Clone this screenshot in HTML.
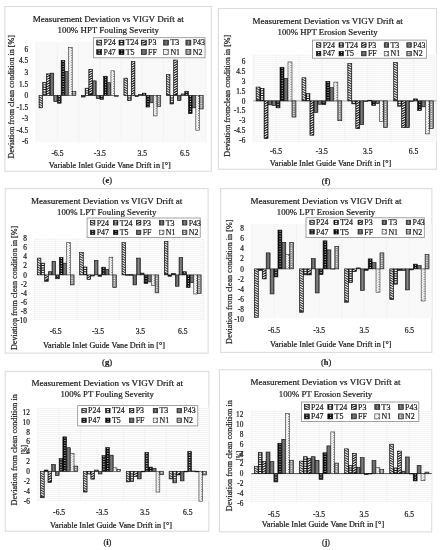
<!DOCTYPE html>
<html><head><meta charset="utf-8"><title>VIGV Drift charts</title>
<style>html,body{margin:0;padding:0;background:#fff;}svg{display:block;filter:blur(0.3px);}</style></head><body>
<svg width="443" height="550" viewBox="0 0 443 550" font-family="'Liberation Serif', 'DejaVu Serif', serif" fill="#1c1c1c">
<style>text{stroke:#1c1c1c;stroke-width:0.22px;paint-order:stroke;}</style>
<rect width="443" height="550" fill="#fff"/>
<g id="chart-e">
<rect x="4.9" y="6.5" width="206.4" height="164.8" fill="#fff" stroke="#dcdcdc" stroke-width="1.1"/>
<rect x="36.24" y="42" width="169.72" height="100.3" fill="#ffffff"/>
<path d="M36.24,43H205.96M36.24,45H205.96M36.24,47H205.96M36.24,49H205.96M36.24,51H205.96M36.24,53H205.96M36.24,55H205.96M36.24,57H205.96M36.24,59H205.96M36.24,61H205.96M36.24,63H205.96M36.24,65H205.96M36.24,67H205.96M36.24,69H205.96M36.24,71H205.96M36.24,73H205.96M36.24,75H205.96M36.24,77H205.96M36.24,79H205.96M36.24,81H205.96M36.24,83H205.96M36.24,85H205.96M36.24,87H205.96M36.24,89H205.96M36.24,91H205.96M36.24,93H205.96M36.24,95H205.96M36.24,97H205.96M36.24,99H205.96M36.24,101H205.96M36.24,103H205.96M36.24,105H205.96M36.24,107H205.96M36.24,109H205.96M36.24,111H205.96M36.24,113H205.96M36.24,115H205.96M36.24,117H205.96M36.24,119H205.96M36.24,121H205.96M36.24,123H205.96M36.24,125H205.96M36.24,127H205.96M36.24,129H205.96M36.24,131H205.96M36.24,133H205.96M36.24,135H205.96M36.24,137H205.96M36.24,139H205.96M36.24,141H205.96" stroke="#e9e9e9" stroke-width="0.6" fill="none"/>
<path d="M36.24,42V142.3M57.45,42V142.3M78.67,42V142.3M99.88,42V142.3M121.1,42V142.3M142.31,42V142.3M163.53,42V142.3M184.75,42V142.3M205.96,42V142.3" stroke="#eeeeee" stroke-width="0.6" fill="none"/>
<rect x="39.01" y="95.5" width="3.69" height="12.34" fill="#3a3a3a"/><path d="M39.82,95.95L41.89,97.25M39.82,98.4L41.89,99.7M39.82,100.85L41.89,102.15M39.82,103.3L41.89,104.6M39.82,105.75L41.89,107.05" stroke="#f2f2f2" stroke-width="1.1" stroke-linecap="round"/><rect x="39.01" y="95.5" width="3.69" height="12.34" fill="none" stroke="#111" stroke-width="0.6"/>
<rect x="42.7" y="82.39" width="3.69" height="13.11" fill="#1a1a1a"/><path d="M44.54,82.99V95.1" stroke="#f6f6f6" stroke-width="2.1" stroke-dasharray="1.4 0.95"/><rect x="42.7" y="82.39" width="3.69" height="13.11" fill="none" stroke="#111" stroke-width="0.6"/>
<rect x="46.39" y="73.91" width="3.69" height="21.59" fill="#1c1c1c"/><path d="M47.2,75.66L49.26,74.36M47.2,78.11L49.26,76.81M47.2,80.56L49.26,79.26M47.2,83.01L49.26,81.71M47.2,85.46L49.26,84.16M47.2,87.91L49.26,86.61M47.2,90.36L49.26,89.06M47.2,92.81L49.26,91.51M47.2,95.26L49.26,93.96" stroke="#f4f4f4" stroke-width="1.05" stroke-linecap="round"/><rect x="46.39" y="73.91" width="3.69" height="21.59" fill="none" stroke="#111" stroke-width="0.6"/>
<rect x="50.08" y="73.14" width="3.69" height="22.36" fill="#4c4c4c"/><rect x="51.27" y="73.14" width="1.3" height="22.36" fill="#808080"/><rect x="50.08" y="73.14" width="3.69" height="22.36" fill="none" stroke="#111" stroke-width="0.6"/>
<rect x="53.77" y="95.5" width="3.69" height="6.17" fill="#595959"/><rect x="55.01" y="95.5" width="1.2" height="6.17" fill="#8a8a8a"/><rect x="53.77" y="95.5" width="3.69" height="6.17" fill="none" stroke="#111" stroke-width="0.6"/>
<rect x="57.45" y="95.5" width="3.69" height="7.71" fill="#1e1e1e"/><path d="M59.3,96.1V102.81" stroke="#d0d0d0" stroke-width="1.3" stroke-dasharray="1.0 1.5"/><rect x="57.45" y="95.5" width="3.69" height="7.71" fill="none" stroke="#111" stroke-width="0.6"/>
<rect x="61.14" y="60.42" width="3.69" height="35.08" fill="#0c0c0c"/><path d="M63.17,61.02V95.1" stroke="#c8c8c8" stroke-width="1.2" stroke-dasharray="1.0 1.5"/><rect x="61.14" y="60.42" width="3.69" height="35.08" fill="none" stroke="#111" stroke-width="0.6"/>
<rect x="64.83" y="71.6" width="3.69" height="23.9" fill="#5a5a5a"/><rect x="66.03" y="71.6" width="1.3" height="23.9" fill="#7c7c7c"/><rect x="64.83" y="71.6" width="3.69" height="23.9" fill="none" stroke="#111" stroke-width="0.6"/>
<rect x="68.52" y="47.31" width="3.69" height="48.19" fill="#fbfbfb"/><path d="M71.25,47.91V95.1" stroke="#333333" stroke-width="0.85" stroke-dasharray="0.8 1.6"/><path d="M69.52,48.91V95.1" stroke="#8a8a8a" stroke-width="0.7" stroke-dasharray="0.8 1.6"/><rect x="68.52" y="47.31" width="3.69" height="48.19" fill="none" stroke="#2a2a2a" stroke-width="0.6"/>
<rect x="72.21" y="91.64" width="3.69" height="3.85" fill="#8a8a8a"/><path d="M73.87,92.24V95.1" stroke="#eeeeee" stroke-width="1.3" stroke-dasharray="1.1 1.2"/><rect x="72.21" y="91.64" width="3.69" height="3.85" fill="none" stroke="#111" stroke-width="0.6"/>
<rect x="81.44" y="95.5" width="3.69" height="1.54" fill="#3a3a3a"/><rect x="81.44" y="95.5" width="3.69" height="1.54" fill="none" stroke="#111" stroke-width="0.6"/>
<rect x="85.13" y="88.18" width="3.69" height="7.32" fill="#1a1a1a"/><path d="M86.97,88.78V95.1" stroke="#f6f6f6" stroke-width="2.1" stroke-dasharray="1.4 0.95"/><rect x="85.13" y="88.18" width="3.69" height="7.32" fill="none" stroke="#111" stroke-width="0.6"/>
<rect x="88.82" y="69.29" width="3.69" height="26.21" fill="#1c1c1c"/><path d="M89.63,71.04L91.69,69.74M89.63,73.49L91.69,72.19M89.63,75.94L91.69,74.64M89.63,78.39L91.69,77.09M89.63,80.84L91.69,79.54M89.63,83.29L91.69,81.99M89.63,85.74L91.69,84.44M89.63,88.19L91.69,86.89M89.63,90.64L91.69,89.34M89.63,93.09L91.69,91.79" stroke="#f4f4f4" stroke-width="1.05" stroke-linecap="round"/><rect x="88.82" y="69.29" width="3.69" height="26.21" fill="none" stroke="#111" stroke-width="0.6"/>
<rect x="92.51" y="80.85" width="3.69" height="14.65" fill="#4c4c4c"/><rect x="93.7" y="80.85" width="1.3" height="14.65" fill="#808080"/><rect x="92.51" y="80.85" width="3.69" height="14.65" fill="none" stroke="#111" stroke-width="0.6"/>
<rect x="96.2" y="95.5" width="3.69" height="3.08" fill="#595959"/><rect x="97.44" y="95.5" width="1.2" height="3.08" fill="#8a8a8a"/><rect x="96.2" y="95.5" width="3.69" height="3.08" fill="none" stroke="#111" stroke-width="0.6"/>
<rect x="99.88" y="95.5" width="3.69" height="3.85" fill="#1e1e1e"/><path d="M101.73,96.1V98.95" stroke="#d0d0d0" stroke-width="1.3" stroke-dasharray="1.0 1.5"/><rect x="99.88" y="95.5" width="3.69" height="3.85" fill="none" stroke="#111" stroke-width="0.6"/>
<rect x="103.57" y="76.22" width="3.69" height="19.27" fill="#0c0c0c"/><path d="M105.6,76.82V95.1" stroke="#c8c8c8" stroke-width="1.2" stroke-dasharray="1.0 1.5"/><rect x="103.57" y="76.22" width="3.69" height="19.27" fill="none" stroke="#111" stroke-width="0.6"/>
<rect x="107.26" y="82.78" width="3.69" height="12.72" fill="#5a5a5a"/><rect x="108.46" y="82.78" width="1.3" height="12.72" fill="#7c7c7c"/><rect x="107.26" y="82.78" width="3.69" height="12.72" fill="none" stroke="#111" stroke-width="0.6"/>
<rect x="110.95" y="70.83" width="3.69" height="24.67" fill="#fbfbfb"/><path d="M113.68,71.43V95.1" stroke="#333333" stroke-width="0.85" stroke-dasharray="0.8 1.6"/><path d="M111.95,72.43V95.1" stroke="#8a8a8a" stroke-width="0.7" stroke-dasharray="0.8 1.6"/><rect x="110.95" y="70.83" width="3.69" height="24.67" fill="none" stroke="#2a2a2a" stroke-width="0.6"/>
<rect x="114.64" y="95.5" width="3.69" height="0.77" fill="#8a8a8a"/><rect x="114.64" y="95.5" width="3.69" height="0.77" fill="none" stroke="#111" stroke-width="0.6"/>
<rect x="123.87" y="78.15" width="3.69" height="17.35" fill="#3a3a3a"/><path d="M124.68,78.6L126.75,79.9M124.68,81.05L126.75,82.35M124.68,83.5L126.75,84.8M124.68,85.95L126.75,87.25M124.68,88.4L126.75,89.7M124.68,90.85L126.75,92.15M124.68,93.3L126.75,94.6" stroke="#f2f2f2" stroke-width="1.1" stroke-linecap="round"/><rect x="123.87" y="78.15" width="3.69" height="17.35" fill="none" stroke="#111" stroke-width="0.6"/>
<rect x="127.56" y="95.5" width="3.69" height="5.01" fill="#1a1a1a"/><path d="M129.4,96.1V100.11" stroke="#f6f6f6" stroke-width="2.1" stroke-dasharray="1.4 0.95"/><rect x="127.56" y="95.5" width="3.69" height="5.01" fill="none" stroke="#111" stroke-width="0.6"/>
<rect x="131.25" y="61.58" width="3.69" height="33.92" fill="#1c1c1c"/><path d="M132.06,63.33L134.12,62.03M132.06,65.78L134.12,64.48M132.06,68.23L134.12,66.93M132.06,70.68L134.12,69.38M132.06,73.13L134.12,71.83M132.06,75.58L134.12,74.28M132.06,78.03L134.12,76.73M132.06,80.48L134.12,79.18M132.06,82.93L134.12,81.63M132.06,85.38L134.12,84.08M132.06,87.83L134.12,86.53M132.06,90.28L134.12,88.98M132.06,92.73L134.12,91.43M132.06,95.18L134.12,93.88" stroke="#f4f4f4" stroke-width="1.05" stroke-linecap="round"/><rect x="131.25" y="61.58" width="3.69" height="33.92" fill="none" stroke="#111" stroke-width="0.6"/>
<rect x="134.94" y="95.5" width="3.69" height="1.16" fill="#4c4c4c"/><rect x="134.94" y="95.5" width="3.69" height="1.16" fill="none" stroke="#111" stroke-width="0.6"/>
<rect x="138.63" y="94.34" width="3.69" height="1.16" fill="#595959"/><rect x="138.63" y="94.34" width="3.69" height="1.16" fill="none" stroke="#111" stroke-width="0.6"/>
<rect x="142.31" y="93.19" width="3.69" height="2.31" fill="#1e1e1e"/><path d="M144.16,93.79V95.1" stroke="#d0d0d0" stroke-width="1.3" stroke-dasharray="1.0 1.5"/><rect x="142.31" y="93.19" width="3.69" height="2.31" fill="none" stroke="#111" stroke-width="0.6"/>
<rect x="146" y="95.5" width="3.69" height="11.56" fill="#0c0c0c"/><path d="M148.03,96.1V106.66" stroke="#c8c8c8" stroke-width="1.2" stroke-dasharray="1.0 1.5"/><rect x="146" y="95.5" width="3.69" height="11.56" fill="none" stroke="#111" stroke-width="0.6"/>
<rect x="149.69" y="95.5" width="3.69" height="7.32" fill="#5a5a5a"/><rect x="150.89" y="95.5" width="1.3" height="7.32" fill="#7c7c7c"/><rect x="149.69" y="95.5" width="3.69" height="7.32" fill="none" stroke="#111" stroke-width="0.6"/>
<rect x="153.38" y="95.5" width="3.69" height="20.43" fill="#fbfbfb"/><path d="M156.11,96.1V115.53" stroke="#333333" stroke-width="0.85" stroke-dasharray="0.8 1.6"/><path d="M154.38,97.1V115.53" stroke="#8a8a8a" stroke-width="0.7" stroke-dasharray="0.8 1.6"/><rect x="153.38" y="95.5" width="3.69" height="20.43" fill="none" stroke="#2a2a2a" stroke-width="0.6"/>
<rect x="157.07" y="95.5" width="3.69" height="10.79" fill="#8a8a8a"/><path d="M158.73,96.1V105.89" stroke="#eeeeee" stroke-width="1.3" stroke-dasharray="1.1 1.2"/><rect x="157.07" y="95.5" width="3.69" height="10.79" fill="none" stroke="#111" stroke-width="0.6"/>
<rect x="166.3" y="74.68" width="3.69" height="20.82" fill="#3a3a3a"/><path d="M167.11,75.13L169.18,76.43M167.11,77.58L169.18,78.88M167.11,80.03L169.18,81.33M167.11,82.48L169.18,83.78M167.11,84.93L169.18,86.23M167.11,87.38L169.18,88.68M167.11,89.83L169.18,91.13M167.11,92.28L169.18,93.58" stroke="#f2f2f2" stroke-width="1.1" stroke-linecap="round"/><rect x="166.3" y="74.68" width="3.69" height="20.82" fill="none" stroke="#111" stroke-width="0.6"/>
<rect x="169.99" y="95.5" width="3.69" height="8.48" fill="#1a1a1a"/><path d="M171.83,96.1V103.58" stroke="#f6f6f6" stroke-width="2.1" stroke-dasharray="1.4 0.95"/><rect x="169.99" y="95.5" width="3.69" height="8.48" fill="none" stroke="#111" stroke-width="0.6"/>
<rect x="173.68" y="60.03" width="3.69" height="35.47" fill="#1c1c1c"/><path d="M174.49,61.78L176.55,60.48M174.49,64.23L176.55,62.93M174.49,66.68L176.55,65.38M174.49,69.13L176.55,67.83M174.49,71.58L176.55,70.28M174.49,74.03L176.55,72.73M174.49,76.48L176.55,75.18M174.49,78.93L176.55,77.63M174.49,81.38L176.55,80.08M174.49,83.83L176.55,82.53M174.49,86.28L176.55,84.98M174.49,88.73L176.55,87.43M174.49,91.18L176.55,89.88M174.49,93.63L176.55,92.33" stroke="#f4f4f4" stroke-width="1.05" stroke-linecap="round"/><rect x="173.68" y="60.03" width="3.69" height="35.47" fill="none" stroke="#111" stroke-width="0.6"/>
<rect x="177.37" y="95.5" width="3.69" height="5.01" fill="#4c4c4c"/><rect x="178.56" y="95.5" width="1.3" height="5.01" fill="#808080"/><rect x="177.37" y="95.5" width="3.69" height="5.01" fill="none" stroke="#111" stroke-width="0.6"/>
<rect x="181.06" y="93.96" width="3.69" height="1.54" fill="#595959"/><rect x="182.3" y="93.96" width="1.2" height="1.54" fill="#8a8a8a"/><rect x="181.06" y="93.96" width="3.69" height="1.54" fill="none" stroke="#111" stroke-width="0.6"/>
<rect x="184.75" y="91.26" width="3.69" height="4.24" fill="#1e1e1e"/><path d="M186.59,91.86V95.1" stroke="#d0d0d0" stroke-width="1.3" stroke-dasharray="1.0 1.5"/><rect x="184.75" y="91.26" width="3.69" height="4.24" fill="none" stroke="#111" stroke-width="0.6"/>
<rect x="188.43" y="95.5" width="3.69" height="18.12" fill="#0c0c0c"/><path d="M190.46,96.1V113.22" stroke="#c8c8c8" stroke-width="1.2" stroke-dasharray="1.0 1.5"/><rect x="188.43" y="95.5" width="3.69" height="18.12" fill="none" stroke="#111" stroke-width="0.6"/>
<rect x="192.12" y="95.5" width="3.69" height="12.34" fill="#5a5a5a"/><rect x="193.32" y="95.5" width="1.3" height="12.34" fill="#7c7c7c"/><rect x="192.12" y="95.5" width="3.69" height="12.34" fill="none" stroke="#111" stroke-width="0.6"/>
<rect x="195.81" y="95.5" width="3.69" height="34.7" fill="#fbfbfb"/><path d="M198.54,96.1V129.79" stroke="#333333" stroke-width="0.85" stroke-dasharray="0.8 1.6"/><path d="M196.81,97.1V129.79" stroke="#8a8a8a" stroke-width="0.7" stroke-dasharray="0.8 1.6"/><rect x="195.81" y="95.5" width="3.69" height="34.7" fill="none" stroke="#2a2a2a" stroke-width="0.6"/>
<rect x="199.5" y="95.5" width="3.69" height="13.49" fill="#8a8a8a"/><path d="M201.16,96.1V108.59" stroke="#eeeeee" stroke-width="1.3" stroke-dasharray="1.1 1.2"/><rect x="199.5" y="95.5" width="3.69" height="13.49" fill="none" stroke="#111" stroke-width="0.6"/>
<text x="28.1" y="51.84" text-anchor="end" font-size="7.3">6</text>
<text x="28.1" y="63.41" text-anchor="end" font-size="7.3">4.5</text>
<text x="28.1" y="74.97" text-anchor="end" font-size="7.3">3</text>
<text x="28.1" y="86.53" text-anchor="end" font-size="7.3">1.5</text>
<text x="28.1" y="98.1" text-anchor="end" font-size="7.3">0</text>
<text x="28.1" y="109.66" text-anchor="end" font-size="7.3">-1.5</text>
<text x="28.1" y="121.23" text-anchor="end" font-size="7.3">-3</text>
<text x="28.1" y="132.79" text-anchor="end" font-size="7.3">-4.5</text>
<text x="28.1" y="144.36" text-anchor="end" font-size="7.3">-6</text>
<text transform="translate(13.6,96.8) rotate(-90)" text-anchor="middle" font-size="7.8" textLength="123.5" lengthAdjust="spacingAndGlyphs">Deviation from clean condition in [%]</text>
<text x="57.45" y="156" text-anchor="middle" font-size="7.6">-6.5</text>
<text x="99.88" y="156" text-anchor="middle" font-size="7.6">-3.5</text>
<text x="142.31" y="156" text-anchor="middle" font-size="7.6">3.5</text>
<text x="184.75" y="156" text-anchor="middle" font-size="7.6">6.5</text>
<text x="109.8" y="168" text-anchor="middle" font-size="7.8" textLength="122" lengthAdjust="spacingAndGlyphs">Variable Inlet Guide Vane Drift in [°]</text>
<text x="108.2" y="22" text-anchor="middle" font-size="9.2" textLength="151" lengthAdjust="spacingAndGlyphs">Measurement Deviation vs VIGV Drift at</text>
<text x="108.2" y="32.7" text-anchor="middle" font-size="9.2" textLength="101.4" lengthAdjust="spacingAndGlyphs">100% HPT Fouling Severity</text>
<rect x="93.5" y="37.7" width="111.5" height="20.1" fill="#fff" stroke="#8c8c8c" stroke-width="0.8"/>
<rect x="96.7" y="40.1" width="5" height="5" fill="#3a3a3a"/><path d="M97.8,40.55L100.6,41.85M97.8,43L100.6,44.3" stroke="#f2f2f2" stroke-width="1.1" stroke-linecap="round"/><rect x="96.7" y="40.1" width="5" height="5" fill="none" stroke="#111" stroke-width="0.6"/>
<text x="103.5" y="45.3" font-size="7.9">P24</text>
<rect x="119" y="40.1" width="5" height="5" fill="#1a1a1a"/><path d="M121.5,40.7V44.7" stroke="#f6f6f6" stroke-width="2.1" stroke-dasharray="1.4 0.95"/><rect x="119" y="40.1" width="5" height="5" fill="none" stroke="#111" stroke-width="0.6"/>
<text x="125.8" y="45.3" font-size="7.9">T24</text>
<rect x="141.3" y="40.1" width="5" height="5" fill="#1c1c1c"/><path d="M142.4,41.85L145.2,40.55M142.4,44.3L145.2,43" stroke="#f4f4f4" stroke-width="1.05" stroke-linecap="round"/><rect x="141.3" y="40.1" width="5" height="5" fill="none" stroke="#111" stroke-width="0.6"/>
<text x="148.1" y="45.3" font-size="7.9">P3</text>
<rect x="163.6" y="40.1" width="5" height="5" fill="#4c4c4c"/><rect x="165.45" y="40.1" width="1.3" height="5" fill="#808080"/><rect x="163.6" y="40.1" width="5" height="5" fill="none" stroke="#111" stroke-width="0.6"/>
<text x="170.4" y="45.3" font-size="7.9">T3</text>
<rect x="185.9" y="40.1" width="5" height="5" fill="#595959"/><rect x="187.8" y="40.1" width="1.2" height="5" fill="#8a8a8a"/><rect x="185.9" y="40.1" width="5" height="5" fill="none" stroke="#111" stroke-width="0.6"/>
<text x="192.7" y="45.3" font-size="7.9">P43</text>
<rect x="96.7" y="49.6" width="5" height="5" fill="#1e1e1e"/><path d="M99.2,50.2V54.2" stroke="#d0d0d0" stroke-width="1.3" stroke-dasharray="1.0 1.5"/><rect x="96.7" y="49.6" width="5" height="5" fill="none" stroke="#111" stroke-width="0.6"/>
<text x="103.5" y="54.8" font-size="7.9">P47</text>
<rect x="119" y="49.6" width="5" height="5" fill="#0c0c0c"/><path d="M121.75,50.2V54.2" stroke="#c8c8c8" stroke-width="1.2" stroke-dasharray="1.0 1.5"/><rect x="119" y="49.6" width="5" height="5" fill="none" stroke="#111" stroke-width="0.6"/>
<text x="125.8" y="54.8" font-size="7.9">T5</text>
<rect x="141.3" y="49.6" width="5" height="5" fill="#5a5a5a"/><rect x="143.15" y="49.6" width="1.3" height="5" fill="#7c7c7c"/><rect x="141.3" y="49.6" width="5" height="5" fill="none" stroke="#111" stroke-width="0.6"/>
<text x="148.1" y="54.8" font-size="7.9">FF</text>
<rect x="163.6" y="49.6" width="5" height="5" fill="#fbfbfb"/><path d="M167.3,50.2V54.2" stroke="#333333" stroke-width="0.85" stroke-dasharray="0.8 1.6"/><path d="M164.95,51.2V54.2" stroke="#8a8a8a" stroke-width="0.7" stroke-dasharray="0.8 1.6"/><rect x="163.6" y="49.6" width="5" height="5" fill="none" stroke="#2a2a2a" stroke-width="0.6"/>
<text x="170.4" y="54.8" font-size="7.9">N1</text>
<rect x="185.9" y="49.6" width="5" height="5" fill="#8a8a8a"/><path d="M188.15,50.2V54.2" stroke="#eeeeee" stroke-width="1.3" stroke-dasharray="1.1 1.2"/><rect x="185.9" y="49.6" width="5" height="5" fill="none" stroke="#111" stroke-width="0.6"/>
<text x="192.7" y="54.8" font-size="7.9">N2</text>
<text x="107.3" y="183.4" text-anchor="middle" font-size="8.4" textLength="9.4" lengthAdjust="spacingAndGlyphs">(<tspan font-weight="bold">e</tspan>)</text>
</g>
<g id="chart-f">
<rect x="218.4" y="8.5" width="218.1" height="160.7" fill="#fff" stroke="#dcdcdc" stroke-width="1.1"/>
<rect x="253.1" y="54.2" width="183.4" height="87.8" fill="#ffffff"/>
<path d="M253.1,55.2H436.5M253.1,57.2H436.5M253.1,59.2H436.5M253.1,61.2H436.5M253.1,63.2H436.5M253.1,65.2H436.5M253.1,67.2H436.5M253.1,69.2H436.5M253.1,71.2H436.5M253.1,73.2H436.5M253.1,75.2H436.5M253.1,77.2H436.5M253.1,79.2H436.5M253.1,81.2H436.5M253.1,83.2H436.5M253.1,85.2H436.5M253.1,87.2H436.5M253.1,89.2H436.5M253.1,91.2H436.5M253.1,93.2H436.5M253.1,95.2H436.5M253.1,97.2H436.5M253.1,99.2H436.5M253.1,101.2H436.5M253.1,103.2H436.5M253.1,105.2H436.5M253.1,107.2H436.5M253.1,109.2H436.5M253.1,111.2H436.5M253.1,113.2H436.5M253.1,115.2H436.5M253.1,117.2H436.5M253.1,119.2H436.5M253.1,121.2H436.5M253.1,123.2H436.5M253.1,125.2H436.5M253.1,127.2H436.5M253.1,129.2H436.5M253.1,131.2H436.5M253.1,133.2H436.5M253.1,135.2H436.5M253.1,137.2H436.5M253.1,139.2H436.5M253.1,141.2H436.5" stroke="#e9e9e9" stroke-width="0.6" fill="none"/>
<path d="M253.1,54.2V142M276.02,54.2V142M298.95,54.2V142M321.88,54.2V142M344.8,54.2V142M367.73,54.2V142M390.65,54.2V142M413.57,54.2V142M436.5,54.2V142" stroke="#eeeeee" stroke-width="0.6" fill="none"/>
<path d="M253.1,100.9H436.5" stroke="#8a8a8a" stroke-width="0.8"/>
<rect x="256.09" y="87.04" width="3.99" height="13.86" fill="#3a3a3a"/><path d="M256.97,87.49L259.2,88.79M256.97,89.94L259.2,91.24M256.97,92.39L259.2,93.69M256.97,94.84L259.2,96.14M256.97,97.29L259.2,98.59" stroke="#f2f2f2" stroke-width="1.1" stroke-linecap="round"/><rect x="256.09" y="87.04" width="3.99" height="13.86" fill="none" stroke="#111" stroke-width="0.6"/>
<rect x="260.08" y="88.36" width="3.99" height="12.54" fill="#1a1a1a"/><path d="M262.07,88.96V100.5" stroke="#f6f6f6" stroke-width="2.1" stroke-dasharray="1.4 0.95"/><rect x="260.08" y="88.36" width="3.99" height="12.54" fill="none" stroke="#111" stroke-width="0.6"/>
<rect x="264.06" y="100.9" width="3.99" height="37.62" fill="#1c1c1c"/><path d="M264.94,102.65L267.17,101.35M264.94,105.1L267.17,103.8M264.94,107.55L267.17,106.25M264.94,110L267.17,108.7M264.94,112.45L267.17,111.15M264.94,114.9L267.17,113.6M264.94,117.35L267.17,116.05M264.94,119.8L267.17,118.5M264.94,122.25L267.17,120.95M264.94,124.7L267.17,123.4M264.94,127.15L267.17,125.85M264.94,129.6L267.17,128.3M264.94,132.05L267.17,130.75M264.94,134.5L267.17,133.2M264.94,136.95L267.17,135.65" stroke="#f4f4f4" stroke-width="1.05" stroke-linecap="round"/><rect x="264.06" y="100.9" width="3.99" height="37.62" fill="none" stroke="#111" stroke-width="0.6"/>
<rect x="268.05" y="100.9" width="3.99" height="3.96" fill="#4c4c4c"/><rect x="269.39" y="100.9" width="1.3" height="3.96" fill="#808080"/><rect x="268.05" y="100.9" width="3.99" height="3.96" fill="none" stroke="#111" stroke-width="0.6"/>
<rect x="272.04" y="100.9" width="3.99" height="4.62" fill="#595959"/><rect x="273.43" y="100.9" width="1.2" height="4.62" fill="#8a8a8a"/><rect x="272.04" y="100.9" width="3.99" height="4.62" fill="none" stroke="#111" stroke-width="0.6"/>
<rect x="276.02" y="100.9" width="3.99" height="6.93" fill="#1e1e1e"/><path d="M278.02,101.5V107.43" stroke="#d0d0d0" stroke-width="1.3" stroke-dasharray="1.0 1.5"/><rect x="276.02" y="100.9" width="3.99" height="6.93" fill="none" stroke="#111" stroke-width="0.6"/>
<rect x="280.01" y="67.24" width="3.99" height="33.66" fill="#0c0c0c"/><path d="M282.2,67.84V100.5" stroke="#c8c8c8" stroke-width="1.2" stroke-dasharray="1.0 1.5"/><rect x="280.01" y="67.24" width="3.99" height="33.66" fill="none" stroke="#111" stroke-width="0.6"/>
<rect x="284" y="78.46" width="3.99" height="22.44" fill="#5a5a5a"/><rect x="285.34" y="78.46" width="1.3" height="22.44" fill="#7c7c7c"/><rect x="284" y="78.46" width="3.99" height="22.44" fill="none" stroke="#111" stroke-width="0.6"/>
<rect x="287.99" y="61.96" width="3.99" height="38.94" fill="#fbfbfb"/><path d="M290.94,62.56V100.5" stroke="#333333" stroke-width="0.85" stroke-dasharray="0.8 1.6"/><path d="M289.06,63.56V100.5" stroke="#8a8a8a" stroke-width="0.7" stroke-dasharray="0.8 1.6"/><rect x="287.99" y="61.96" width="3.99" height="38.94" fill="none" stroke="#2a2a2a" stroke-width="0.6"/>
<rect x="291.97" y="100.9" width="3.99" height="16.17" fill="#8a8a8a"/><path d="M293.77,101.5V116.67" stroke="#eeeeee" stroke-width="1.3" stroke-dasharray="1.1 1.2"/><rect x="291.97" y="100.9" width="3.99" height="16.17" fill="none" stroke="#111" stroke-width="0.6"/>
<rect x="301.94" y="77.8" width="3.99" height="23.1" fill="#3a3a3a"/><path d="M302.82,78.25L305.05,79.55M302.82,80.7L305.05,82M302.82,83.15L305.05,84.45M302.82,85.6L305.05,86.9M302.82,88.05L305.05,89.35M302.82,90.5L305.05,91.8M302.82,92.95L305.05,94.25M302.82,95.4L305.05,96.7M302.82,97.85L305.05,99.15" stroke="#f2f2f2" stroke-width="1.1" stroke-linecap="round"/><rect x="301.94" y="77.8" width="3.99" height="23.1" fill="none" stroke="#111" stroke-width="0.6"/>
<rect x="305.93" y="93.64" width="3.99" height="7.26" fill="#1a1a1a"/><path d="M307.92,94.24V100.5" stroke="#f6f6f6" stroke-width="2.1" stroke-dasharray="1.4 0.95"/><rect x="305.93" y="93.64" width="3.99" height="7.26" fill="none" stroke="#111" stroke-width="0.6"/>
<rect x="309.91" y="100.9" width="3.99" height="34.32" fill="#1c1c1c"/><path d="M310.79,102.65L313.02,101.35M310.79,105.1L313.02,103.8M310.79,107.55L313.02,106.25M310.79,110L313.02,108.7M310.79,112.45L313.02,111.15M310.79,114.9L313.02,113.6M310.79,117.35L313.02,116.05M310.79,119.8L313.02,118.5M310.79,122.25L313.02,120.95M310.79,124.7L313.02,123.4M310.79,127.15L313.02,125.85M310.79,129.6L313.02,128.3M310.79,132.05L313.02,130.75M310.79,134.5L313.02,133.2" stroke="#f4f4f4" stroke-width="1.05" stroke-linecap="round"/><rect x="309.91" y="100.9" width="3.99" height="34.32" fill="none" stroke="#111" stroke-width="0.6"/>
<rect x="313.9" y="100.9" width="3.99" height="11.55" fill="#4c4c4c"/><rect x="315.24" y="100.9" width="1.3" height="11.55" fill="#808080"/><rect x="313.9" y="100.9" width="3.99" height="11.55" fill="none" stroke="#111" stroke-width="0.6"/>
<rect x="317.89" y="100.9" width="3.99" height="3.3" fill="#595959"/><rect x="319.28" y="100.9" width="1.2" height="3.3" fill="#8a8a8a"/><rect x="317.89" y="100.9" width="3.99" height="3.3" fill="none" stroke="#111" stroke-width="0.6"/>
<rect x="321.88" y="100.9" width="3.99" height="3.63" fill="#1e1e1e"/><path d="M323.87,101.5V104.13" stroke="#d0d0d0" stroke-width="1.3" stroke-dasharray="1.0 1.5"/><rect x="321.88" y="100.9" width="3.99" height="3.63" fill="none" stroke="#111" stroke-width="0.6"/>
<rect x="325.86" y="81.43" width="3.99" height="19.47" fill="#0c0c0c"/><path d="M328.05,82.03V100.5" stroke="#c8c8c8" stroke-width="1.2" stroke-dasharray="1.0 1.5"/><rect x="325.86" y="81.43" width="3.99" height="19.47" fill="none" stroke="#111" stroke-width="0.6"/>
<rect x="329.85" y="87.7" width="3.99" height="13.2" fill="#5a5a5a"/><rect x="331.19" y="87.7" width="1.3" height="13.2" fill="#7c7c7c"/><rect x="329.85" y="87.7" width="3.99" height="13.2" fill="none" stroke="#111" stroke-width="0.6"/>
<rect x="333.84" y="82.09" width="3.99" height="18.81" fill="#fbfbfb"/><path d="M336.79,82.69V100.5" stroke="#333333" stroke-width="0.85" stroke-dasharray="0.8 1.6"/><path d="M334.91,83.69V100.5" stroke="#8a8a8a" stroke-width="0.7" stroke-dasharray="0.8 1.6"/><rect x="333.84" y="82.09" width="3.99" height="18.81" fill="none" stroke="#2a2a2a" stroke-width="0.6"/>
<rect x="337.82" y="100.9" width="3.99" height="19.8" fill="#8a8a8a"/><path d="M339.62,101.5V120.3" stroke="#eeeeee" stroke-width="1.3" stroke-dasharray="1.1 1.2"/><rect x="337.82" y="100.9" width="3.99" height="19.8" fill="none" stroke="#111" stroke-width="0.6"/>
<rect x="347.79" y="63.61" width="3.99" height="37.29" fill="#3a3a3a"/><path d="M348.67,64.06L350.9,65.36M348.67,66.51L350.9,67.81M348.67,68.96L350.9,70.26M348.67,71.41L350.9,72.71M348.67,73.86L350.9,75.16M348.67,76.31L350.9,77.61M348.67,78.76L350.9,80.06M348.67,81.21L350.9,82.51M348.67,83.66L350.9,84.96M348.67,86.11L350.9,87.41M348.67,88.56L350.9,89.86M348.67,91.01L350.9,92.31M348.67,93.46L350.9,94.76M348.67,95.91L350.9,97.21M348.67,98.36L350.9,99.66" stroke="#f2f2f2" stroke-width="1.1" stroke-linecap="round"/><rect x="347.79" y="63.61" width="3.99" height="37.29" fill="none" stroke="#111" stroke-width="0.6"/>
<rect x="351.78" y="100.9" width="3.99" height="2.97" fill="#1a1a1a"/><path d="M353.77,101.5V103.47" stroke="#f6f6f6" stroke-width="2.1" stroke-dasharray="1.4 0.95"/><rect x="351.78" y="100.9" width="3.99" height="2.97" fill="none" stroke="#111" stroke-width="0.6"/>
<rect x="355.76" y="100.9" width="3.99" height="27.72" fill="#1c1c1c"/><path d="M356.64,102.65L358.87,101.35M356.64,105.1L358.87,103.8M356.64,107.55L358.87,106.25M356.64,110L358.87,108.7M356.64,112.45L358.87,111.15M356.64,114.9L358.87,113.6M356.64,117.35L358.87,116.05M356.64,119.8L358.87,118.5M356.64,122.25L358.87,120.95M356.64,124.7L358.87,123.4M356.64,127.15L358.87,125.85" stroke="#f4f4f4" stroke-width="1.05" stroke-linecap="round"/><rect x="355.76" y="100.9" width="3.99" height="27.72" fill="none" stroke="#111" stroke-width="0.6"/>
<rect x="359.75" y="100.9" width="3.99" height="23.76" fill="#4c4c4c"/><rect x="361.09" y="100.9" width="1.3" height="23.76" fill="#808080"/><rect x="359.75" y="100.9" width="3.99" height="23.76" fill="none" stroke="#111" stroke-width="0.6"/>
<rect x="363.74" y="100.9" width="3.99" height="0.66" fill="#595959"/><rect x="363.74" y="100.9" width="3.99" height="0.66" fill="none" stroke="#111" stroke-width="0.6"/>
<rect x="367.73" y="100.24" width="3.99" height="0.66" fill="#1e1e1e"/><rect x="367.73" y="100.24" width="3.99" height="0.66" fill="none" stroke="#111" stroke-width="0.6"/>
<rect x="371.71" y="100.9" width="3.99" height="4.62" fill="#0c0c0c"/><path d="M373.9,101.5V105.12" stroke="#c8c8c8" stroke-width="1.2" stroke-dasharray="1.0 1.5"/><rect x="371.71" y="100.9" width="3.99" height="4.62" fill="none" stroke="#111" stroke-width="0.6"/>
<rect x="375.7" y="100.9" width="3.99" height="2.64" fill="#5a5a5a"/><rect x="377.04" y="100.9" width="1.3" height="2.64" fill="#7c7c7c"/><rect x="375.7" y="100.9" width="3.99" height="2.64" fill="none" stroke="#111" stroke-width="0.6"/>
<rect x="379.69" y="100.9" width="3.99" height="20.46" fill="#fbfbfb"/><path d="M382.64,101.5V120.96" stroke="#333333" stroke-width="0.85" stroke-dasharray="0.8 1.6"/><path d="M380.76,102.5V120.96" stroke="#8a8a8a" stroke-width="0.7" stroke-dasharray="0.8 1.6"/><rect x="379.69" y="100.9" width="3.99" height="20.46" fill="none" stroke="#2a2a2a" stroke-width="0.6"/>
<rect x="383.67" y="100.9" width="3.99" height="26.73" fill="#8a8a8a"/><path d="M385.47,101.5V127.23" stroke="#eeeeee" stroke-width="1.3" stroke-dasharray="1.1 1.2"/><rect x="383.67" y="100.9" width="3.99" height="26.73" fill="none" stroke="#111" stroke-width="0.6"/>
<rect x="393.64" y="62.62" width="3.99" height="38.28" fill="#3a3a3a"/><path d="M394.52,63.07L396.75,64.37M394.52,65.52L396.75,66.82M394.52,67.97L396.75,69.27M394.52,70.42L396.75,71.72M394.52,72.87L396.75,74.17M394.52,75.32L396.75,76.62M394.52,77.77L396.75,79.07M394.52,80.22L396.75,81.52M394.52,82.67L396.75,83.97M394.52,85.12L396.75,86.42M394.52,87.57L396.75,88.87M394.52,90.02L396.75,91.32M394.52,92.47L396.75,93.77M394.52,94.92L396.75,96.22M394.52,97.37L396.75,98.67" stroke="#f2f2f2" stroke-width="1.1" stroke-linecap="round"/><rect x="393.64" y="62.62" width="3.99" height="38.28" fill="none" stroke="#111" stroke-width="0.6"/>
<rect x="397.63" y="100.9" width="3.99" height="5.28" fill="#1a1a1a"/><path d="M399.62,101.5V105.78" stroke="#f6f6f6" stroke-width="2.1" stroke-dasharray="1.4 0.95"/><rect x="397.63" y="100.9" width="3.99" height="5.28" fill="none" stroke="#111" stroke-width="0.6"/>
<rect x="401.61" y="100.9" width="3.99" height="26.73" fill="#1c1c1c"/><path d="M402.49,102.65L404.72,101.35M402.49,105.1L404.72,103.8M402.49,107.55L404.72,106.25M402.49,110L404.72,108.7M402.49,112.45L404.72,111.15M402.49,114.9L404.72,113.6M402.49,117.35L404.72,116.05M402.49,119.8L404.72,118.5M402.49,122.25L404.72,120.95M402.49,124.7L404.72,123.4M402.49,127.15L404.72,125.85" stroke="#f4f4f4" stroke-width="1.05" stroke-linecap="round"/><rect x="401.61" y="100.9" width="3.99" height="26.73" fill="none" stroke="#111" stroke-width="0.6"/>
<rect x="405.6" y="100.9" width="3.99" height="26.73" fill="#4c4c4c"/><rect x="406.94" y="100.9" width="1.3" height="26.73" fill="#808080"/><rect x="405.6" y="100.9" width="3.99" height="26.73" fill="none" stroke="#111" stroke-width="0.6"/>
<rect x="409.59" y="100.9" width="3.99" height="0.6" fill="#595959"/><rect x="409.59" y="100.9" width="3.99" height="0.6" fill="none" stroke="#111" stroke-width="0.6"/>
<rect x="413.57" y="98.92" width="3.99" height="1.98" fill="#1e1e1e"/><path d="M415.57,99.52V100.5" stroke="#d0d0d0" stroke-width="1.3" stroke-dasharray="1.0 1.5"/><rect x="413.57" y="98.92" width="3.99" height="1.98" fill="none" stroke="#111" stroke-width="0.6"/>
<rect x="417.56" y="100.9" width="3.99" height="9.57" fill="#0c0c0c"/><path d="M419.75,101.5V110.07" stroke="#c8c8c8" stroke-width="1.2" stroke-dasharray="1.0 1.5"/><rect x="417.56" y="100.9" width="3.99" height="9.57" fill="none" stroke="#111" stroke-width="0.6"/>
<rect x="421.55" y="100.9" width="3.99" height="5.94" fill="#5a5a5a"/><rect x="422.89" y="100.9" width="1.3" height="5.94" fill="#7c7c7c"/><rect x="421.55" y="100.9" width="3.99" height="5.94" fill="none" stroke="#111" stroke-width="0.6"/>
<rect x="425.54" y="100.9" width="3.99" height="33" fill="#fbfbfb"/><path d="M428.49,101.5V133.5" stroke="#333333" stroke-width="0.85" stroke-dasharray="0.8 1.6"/><path d="M426.61,102.5V133.5" stroke="#8a8a8a" stroke-width="0.7" stroke-dasharray="0.8 1.6"/><rect x="425.54" y="100.9" width="3.99" height="33" fill="none" stroke="#2a2a2a" stroke-width="0.6"/>
<rect x="429.52" y="100.9" width="3.99" height="27.72" fill="#8a8a8a"/><path d="M431.32,101.5V128.22" stroke="#eeeeee" stroke-width="1.3" stroke-dasharray="1.1 1.2"/><rect x="429.52" y="100.9" width="3.99" height="27.72" fill="none" stroke="#111" stroke-width="0.6"/>
<text x="245.3" y="63.9" text-anchor="end" font-size="7.3">6</text>
<text x="245.3" y="73.8" text-anchor="end" font-size="7.3">4.5</text>
<text x="245.3" y="83.7" text-anchor="end" font-size="7.3">3</text>
<text x="245.3" y="93.6" text-anchor="end" font-size="7.3">1.5</text>
<text x="245.3" y="103.5" text-anchor="end" font-size="7.3">0</text>
<text x="245.3" y="113.4" text-anchor="end" font-size="7.3">-1.5</text>
<text x="245.3" y="123.3" text-anchor="end" font-size="7.3">-3</text>
<text x="245.3" y="133.2" text-anchor="end" font-size="7.3">-4.5</text>
<text x="245.3" y="143.1" text-anchor="end" font-size="7.3">-6</text>
<text transform="translate(229.6,95.7) rotate(-90)" text-anchor="middle" font-size="7.8" textLength="122" lengthAdjust="spacingAndGlyphs">Deviation fromclean condition in [%]</text>
<text x="276.02" y="154.4" text-anchor="middle" font-size="7.6">-6.5</text>
<text x="321.88" y="154.4" text-anchor="middle" font-size="7.6">-3.5</text>
<text x="367.73" y="154.4" text-anchor="middle" font-size="7.6">3.5</text>
<text x="413.57" y="154.4" text-anchor="middle" font-size="7.6">6.5</text>
<text x="330.6" y="166.2" text-anchor="middle" font-size="7.8" textLength="121.5" lengthAdjust="spacingAndGlyphs">Variable Inlet Guide Vane Drift in [°]</text>
<text x="327.6" y="23.6" text-anchor="middle" font-size="9.2" textLength="150.4" lengthAdjust="spacingAndGlyphs">Measurement Deviation vs VIGV Drift at</text>
<text x="327.6" y="35" text-anchor="middle" font-size="9.2" textLength="100" lengthAdjust="spacingAndGlyphs">100% HPT Erosion Severity</text>
<rect x="312.5" y="40.1" width="114" height="18.1" fill="#fff" stroke="#8c8c8c" stroke-width="0.8"/>
<rect x="316.4" y="42.75" width="4.5" height="4.5" fill="#3a3a3a"/><path d="M317.39,43.2L319.91,44.5M317.39,45.65L319.91,46.95" stroke="#f2f2f2" stroke-width="1.1" stroke-linecap="round"/><rect x="316.4" y="42.75" width="4.5" height="4.5" fill="none" stroke="#111" stroke-width="0.6"/>
<text x="322.7" y="47.7" font-size="7.9">P24</text>
<rect x="339" y="42.75" width="4.5" height="4.5" fill="#1a1a1a"/><path d="M341.25,43.35V46.85" stroke="#f6f6f6" stroke-width="2.1" stroke-dasharray="1.4 0.95"/><rect x="339" y="42.75" width="4.5" height="4.5" fill="none" stroke="#111" stroke-width="0.6"/>
<text x="345.3" y="47.7" font-size="7.9">T24</text>
<rect x="361.6" y="42.75" width="4.5" height="4.5" fill="#1c1c1c"/><path d="M362.59,44.5L365.11,43.2M362.59,46.95L365.11,45.65" stroke="#f4f4f4" stroke-width="1.05" stroke-linecap="round"/><rect x="361.6" y="42.75" width="4.5" height="4.5" fill="none" stroke="#111" stroke-width="0.6"/>
<text x="367.9" y="47.7" font-size="7.9">P3</text>
<rect x="384.2" y="42.75" width="4.5" height="4.5" fill="#4c4c4c"/><rect x="385.8" y="42.75" width="1.3" height="4.5" fill="#808080"/><rect x="384.2" y="42.75" width="4.5" height="4.5" fill="none" stroke="#111" stroke-width="0.6"/>
<text x="390.5" y="47.7" font-size="7.9">T3</text>
<rect x="406.8" y="42.75" width="4.5" height="4.5" fill="#595959"/><rect x="408.45" y="42.75" width="1.2" height="4.5" fill="#8a8a8a"/><rect x="406.8" y="42.75" width="4.5" height="4.5" fill="none" stroke="#111" stroke-width="0.6"/>
<text x="413.1" y="47.7" font-size="7.9">P43</text>
<rect x="316.4" y="51.35" width="4.5" height="4.5" fill="#1e1e1e"/><path d="M318.65,51.95V55.45" stroke="#d0d0d0" stroke-width="1.3" stroke-dasharray="1.0 1.5"/><rect x="316.4" y="51.35" width="4.5" height="4.5" fill="none" stroke="#111" stroke-width="0.6"/>
<text x="322.7" y="56.3" font-size="7.9">P47</text>
<rect x="339" y="51.35" width="4.5" height="4.5" fill="#0c0c0c"/><path d="M341.48,51.95V55.45" stroke="#c8c8c8" stroke-width="1.2" stroke-dasharray="1.0 1.5"/><rect x="339" y="51.35" width="4.5" height="4.5" fill="none" stroke="#111" stroke-width="0.6"/>
<text x="345.3" y="56.3" font-size="7.9">T5</text>
<rect x="361.6" y="51.35" width="4.5" height="4.5" fill="#5a5a5a"/><rect x="363.2" y="51.35" width="1.3" height="4.5" fill="#7c7c7c"/><rect x="361.6" y="51.35" width="4.5" height="4.5" fill="none" stroke="#111" stroke-width="0.6"/>
<text x="367.9" y="56.3" font-size="7.9">FF</text>
<rect x="384.2" y="51.35" width="4.5" height="4.5" fill="#fbfbfb"/><path d="M387.53,51.95V55.45" stroke="#333333" stroke-width="0.85" stroke-dasharray="0.8 1.6"/><path d="M385.41,52.95V55.45" stroke="#8a8a8a" stroke-width="0.7" stroke-dasharray="0.8 1.6"/><rect x="384.2" y="51.35" width="4.5" height="4.5" fill="none" stroke="#2a2a2a" stroke-width="0.6"/>
<text x="390.5" y="56.3" font-size="7.9">N1</text>
<rect x="406.8" y="51.35" width="4.5" height="4.5" fill="#8a8a8a"/><path d="M408.82,51.95V55.45" stroke="#eeeeee" stroke-width="1.3" stroke-dasharray="1.1 1.2"/><rect x="406.8" y="51.35" width="4.5" height="4.5" fill="none" stroke="#111" stroke-width="0.6"/>
<text x="413.1" y="56.3" font-size="7.9">N2</text>
<text x="326.1" y="183.5" text-anchor="middle" font-size="8.4" textLength="8.6" lengthAdjust="spacingAndGlyphs">(<tspan font-weight="bold">f</tspan>)</text>
</g>
<g id="chart-g">
<rect x="5.2" y="188.6" width="202.9" height="164.5" fill="#fff" stroke="#dcdcdc" stroke-width="1.1"/>
<rect x="34.5" y="238.3" width="169.4" height="81.7" fill="#ffffff"/>
<path d="M34.5,239.3H203.9M34.5,241.3H203.9M34.5,243.3H203.9M34.5,245.3H203.9M34.5,247.3H203.9M34.5,249.3H203.9M34.5,251.3H203.9M34.5,253.3H203.9M34.5,255.3H203.9M34.5,257.3H203.9M34.5,259.3H203.9M34.5,261.3H203.9M34.5,263.3H203.9M34.5,265.3H203.9M34.5,267.3H203.9M34.5,269.3H203.9M34.5,271.3H203.9M34.5,273.3H203.9M34.5,275.3H203.9M34.5,277.3H203.9M34.5,279.3H203.9M34.5,281.3H203.9M34.5,283.3H203.9M34.5,285.3H203.9M34.5,287.3H203.9M34.5,289.3H203.9M34.5,291.3H203.9M34.5,293.3H203.9M34.5,295.3H203.9M34.5,297.3H203.9M34.5,299.3H203.9M34.5,301.3H203.9M34.5,303.3H203.9M34.5,305.3H203.9M34.5,307.3H203.9M34.5,309.3H203.9M34.5,311.3H203.9M34.5,313.3H203.9M34.5,315.3H203.9M34.5,317.3H203.9M34.5,319.3H203.9" stroke="#e9e9e9" stroke-width="0.6" fill="none"/>
<path d="M34.5,238.3V320M55.67,238.3V320M76.85,238.3V320M98.03,238.3V320M119.2,238.3V320M140.38,238.3V320M161.55,238.3V320M182.72,238.3V320M203.9,238.3V320" stroke="#eeeeee" stroke-width="0.6" fill="none"/>
<rect x="37.26" y="258.1" width="3.68" height="16.8" fill="#3a3a3a"/><path d="M38.07,258.55L40.13,259.85M38.07,261L40.13,262.3M38.07,263.45L40.13,264.75M38.07,265.9L40.13,267.2M38.07,268.35L40.13,269.65M38.07,270.8L40.13,272.1M38.07,273.25L40.13,274.55" stroke="#f2f2f2" stroke-width="1.1" stroke-linecap="round"/><rect x="37.26" y="258.1" width="3.68" height="16.8" fill="none" stroke="#111" stroke-width="0.6"/>
<rect x="40.94" y="263.1" width="3.68" height="11.8" fill="#1a1a1a"/><path d="M42.79,263.7V274.5" stroke="#f6f6f6" stroke-width="2.1" stroke-dasharray="1.4 0.95"/><rect x="40.94" y="263.1" width="3.68" height="11.8" fill="none" stroke="#111" stroke-width="0.6"/>
<rect x="44.63" y="274.9" width="3.68" height="6.36" fill="#1c1c1c"/><path d="M45.44,276.65L47.5,275.35M45.44,279.1L47.5,277.8" stroke="#f4f4f4" stroke-width="1.05" stroke-linecap="round"/><rect x="44.63" y="274.9" width="3.68" height="6.36" fill="none" stroke="#111" stroke-width="0.6"/>
<rect x="48.31" y="271.72" width="3.68" height="3.18" fill="#4c4c4c"/><rect x="49.5" y="271.72" width="1.3" height="3.18" fill="#808080"/><rect x="48.31" y="271.72" width="3.68" height="3.18" fill="none" stroke="#111" stroke-width="0.6"/>
<rect x="51.99" y="261.28" width="3.68" height="13.62" fill="#595959"/><rect x="53.23" y="261.28" width="1.2" height="13.62" fill="#8a8a8a"/><rect x="51.99" y="261.28" width="3.68" height="13.62" fill="none" stroke="#111" stroke-width="0.6"/>
<rect x="55.67" y="274.9" width="3.68" height="3.86" fill="#1e1e1e"/><path d="M57.52,275.5V278.36" stroke="#d0d0d0" stroke-width="1.3" stroke-dasharray="1.0 1.5"/><rect x="55.67" y="274.9" width="3.68" height="3.86" fill="none" stroke="#111" stroke-width="0.6"/>
<rect x="59.36" y="257.42" width="3.68" height="17.48" fill="#0c0c0c"/><path d="M61.38,258.02V274.5" stroke="#c8c8c8" stroke-width="1.2" stroke-dasharray="1.0 1.5"/><rect x="59.36" y="257.42" width="3.68" height="17.48" fill="none" stroke="#111" stroke-width="0.6"/>
<rect x="63.04" y="263.1" width="3.68" height="11.8" fill="#5a5a5a"/><rect x="64.23" y="263.1" width="1.3" height="11.8" fill="#7c7c7c"/><rect x="63.04" y="263.1" width="3.68" height="11.8" fill="none" stroke="#111" stroke-width="0.6"/>
<rect x="66.72" y="242.44" width="3.68" height="32.46" fill="#fbfbfb"/><path d="M69.45,243.04V274.5" stroke="#333333" stroke-width="0.85" stroke-dasharray="0.8 1.6"/><path d="M67.72,244.04V274.5" stroke="#8a8a8a" stroke-width="0.7" stroke-dasharray="0.8 1.6"/><rect x="66.72" y="242.44" width="3.68" height="32.46" fill="none" stroke="#2a2a2a" stroke-width="0.6"/>
<rect x="70.41" y="274.9" width="3.68" height="9.99" fill="#8a8a8a"/><path d="M72.06,275.5V284.49" stroke="#eeeeee" stroke-width="1.3" stroke-dasharray="1.1 1.2"/><rect x="70.41" y="274.9" width="3.68" height="9.99" fill="none" stroke="#111" stroke-width="0.6"/>
<rect x="79.61" y="252.65" width="3.68" height="22.25" fill="#3a3a3a"/><path d="M80.42,253.1L82.48,254.4M80.42,255.55L82.48,256.85M80.42,258L82.48,259.3M80.42,260.45L82.48,261.75M80.42,262.9L82.48,264.2M80.42,265.35L82.48,266.65M80.42,267.8L82.48,269.1M80.42,270.25L82.48,271.55M80.42,272.7L82.48,274" stroke="#f2f2f2" stroke-width="1.1" stroke-linecap="round"/><rect x="79.61" y="252.65" width="3.68" height="22.25" fill="none" stroke="#111" stroke-width="0.6"/>
<rect x="83.29" y="266.95" width="3.68" height="7.95" fill="#1a1a1a"/><path d="M85.14,267.56V274.5" stroke="#f6f6f6" stroke-width="2.1" stroke-dasharray="1.4 0.95"/><rect x="83.29" y="266.95" width="3.68" height="7.95" fill="none" stroke="#111" stroke-width="0.6"/>
<rect x="86.98" y="274.9" width="3.68" height="4.54" fill="#1c1c1c"/><path d="M87.79,276.65L89.85,275.35M87.79,279.1L89.85,277.8" stroke="#f4f4f4" stroke-width="1.05" stroke-linecap="round"/><rect x="86.98" y="274.9" width="3.68" height="4.54" fill="none" stroke="#111" stroke-width="0.6"/>
<rect x="90.66" y="274.9" width="3.68" height="1.14" fill="#4c4c4c"/><rect x="90.66" y="274.9" width="3.68" height="1.14" fill="none" stroke="#111" stroke-width="0.6"/>
<rect x="94.34" y="260.37" width="3.68" height="14.53" fill="#595959"/><rect x="95.58" y="260.37" width="1.2" height="14.53" fill="#8a8a8a"/><rect x="94.34" y="260.37" width="3.68" height="14.53" fill="none" stroke="#111" stroke-width="0.6"/>
<rect x="98.03" y="274.9" width="3.68" height="1.36" fill="#1e1e1e"/><rect x="98.03" y="274.9" width="3.68" height="1.36" fill="none" stroke="#111" stroke-width="0.6"/>
<rect x="101.71" y="267.18" width="3.68" height="7.72" fill="#0c0c0c"/><path d="M103.73,267.78V274.5" stroke="#c8c8c8" stroke-width="1.2" stroke-dasharray="1.0 1.5"/><rect x="101.71" y="267.18" width="3.68" height="7.72" fill="none" stroke="#111" stroke-width="0.6"/>
<rect x="105.39" y="269.22" width="3.68" height="5.67" fill="#5a5a5a"/><rect x="106.58" y="269.22" width="1.3" height="5.67" fill="#7c7c7c"/><rect x="105.39" y="269.22" width="3.68" height="5.67" fill="none" stroke="#111" stroke-width="0.6"/>
<rect x="109.07" y="257.19" width="3.68" height="17.71" fill="#fbfbfb"/><path d="M111.8,257.79V274.5" stroke="#333333" stroke-width="0.85" stroke-dasharray="0.8 1.6"/><path d="M110.07,258.79V274.5" stroke="#8a8a8a" stroke-width="0.7" stroke-dasharray="0.8 1.6"/><rect x="109.07" y="257.19" width="3.68" height="17.71" fill="none" stroke="#2a2a2a" stroke-width="0.6"/>
<rect x="112.76" y="274.9" width="3.68" height="12.71" fill="#8a8a8a"/><path d="M114.41,275.5V287.21" stroke="#eeeeee" stroke-width="1.3" stroke-dasharray="1.1 1.2"/><rect x="112.76" y="274.9" width="3.68" height="12.71" fill="none" stroke="#111" stroke-width="0.6"/>
<rect x="121.96" y="242.67" width="3.68" height="32.23" fill="#3a3a3a"/><path d="M122.77,243.12L124.83,244.42M122.77,245.57L124.83,246.87M122.77,248.02L124.83,249.32M122.77,250.47L124.83,251.77M122.77,252.92L124.83,254.22M122.77,255.37L124.83,256.67M122.77,257.82L124.83,259.12M122.77,260.27L124.83,261.57M122.77,262.72L124.83,264.02M122.77,265.17L124.83,266.47M122.77,267.62L124.83,268.92M122.77,270.07L124.83,271.37M122.77,272.52L124.83,273.82" stroke="#f2f2f2" stroke-width="1.1" stroke-linecap="round"/><rect x="121.96" y="242.67" width="3.68" height="32.23" fill="none" stroke="#111" stroke-width="0.6"/>
<rect x="125.64" y="274.67" width="3.68" height="0.6" fill="#1a1a1a"/><rect x="125.64" y="274.67" width="3.68" height="0.6" fill="none" stroke="#111" stroke-width="0.6"/>
<rect x="129.33" y="274.67" width="3.68" height="0.6" fill="#1c1c1c"/><rect x="129.33" y="274.67" width="3.68" height="0.6" fill="none" stroke="#111" stroke-width="0.6"/>
<rect x="133.01" y="274.9" width="3.68" height="9.99" fill="#4c4c4c"/><rect x="134.2" y="274.9" width="1.3" height="9.99" fill="#808080"/><rect x="133.01" y="274.9" width="3.68" height="9.99" fill="none" stroke="#111" stroke-width="0.6"/>
<rect x="136.69" y="258.1" width="3.68" height="16.8" fill="#595959"/><rect x="137.93" y="258.1" width="1.2" height="16.8" fill="#8a8a8a"/><rect x="136.69" y="258.1" width="3.68" height="16.8" fill="none" stroke="#111" stroke-width="0.6"/>
<rect x="140.38" y="273.08" width="3.68" height="1.82" fill="#1e1e1e"/><path d="M142.22,273.68V274.5" stroke="#d0d0d0" stroke-width="1.3" stroke-dasharray="1.0 1.5"/><rect x="140.38" y="273.08" width="3.68" height="1.82" fill="none" stroke="#111" stroke-width="0.6"/>
<rect x="144.06" y="274.9" width="3.68" height="8.63" fill="#0c0c0c"/><path d="M146.08,275.5V283.13" stroke="#c8c8c8" stroke-width="1.2" stroke-dasharray="1.0 1.5"/><rect x="144.06" y="274.9" width="3.68" height="8.63" fill="none" stroke="#111" stroke-width="0.6"/>
<rect x="147.74" y="274.9" width="3.68" height="7.04" fill="#5a5a5a"/><rect x="148.93" y="274.9" width="1.3" height="7.04" fill="#7c7c7c"/><rect x="147.74" y="274.9" width="3.68" height="7.04" fill="none" stroke="#111" stroke-width="0.6"/>
<rect x="151.42" y="274.9" width="3.68" height="10.44" fill="#fbfbfb"/><path d="M154.15,275.5V284.94" stroke="#333333" stroke-width="0.85" stroke-dasharray="0.8 1.6"/><path d="M152.42,276.5V284.94" stroke="#8a8a8a" stroke-width="0.7" stroke-dasharray="0.8 1.6"/><rect x="151.42" y="274.9" width="3.68" height="10.44" fill="none" stroke="#2a2a2a" stroke-width="0.6"/>
<rect x="155.11" y="274.9" width="3.68" height="17.93" fill="#8a8a8a"/><path d="M156.76,275.5V292.43" stroke="#eeeeee" stroke-width="1.3" stroke-dasharray="1.1 1.2"/><rect x="155.11" y="274.9" width="3.68" height="17.93" fill="none" stroke="#111" stroke-width="0.6"/>
<rect x="164.31" y="241.3" width="3.68" height="33.6" fill="#3a3a3a"/><path d="M165.12,241.75L167.18,243.05M165.12,244.2L167.18,245.5M165.12,246.65L167.18,247.95M165.12,249.1L167.18,250.4M165.12,251.55L167.18,252.85M165.12,254L167.18,255.3M165.12,256.45L167.18,257.75M165.12,258.9L167.18,260.2M165.12,261.35L167.18,262.65M165.12,263.8L167.18,265.1M165.12,266.25L167.18,267.55M165.12,268.7L167.18,270M165.12,271.15L167.18,272.45" stroke="#f2f2f2" stroke-width="1.1" stroke-linecap="round"/><rect x="164.31" y="241.3" width="3.68" height="33.6" fill="none" stroke="#111" stroke-width="0.6"/>
<rect x="167.99" y="274.9" width="3.68" height="1.36" fill="#1a1a1a"/><rect x="167.99" y="274.9" width="3.68" height="1.36" fill="none" stroke="#111" stroke-width="0.6"/>
<rect x="171.68" y="273.54" width="3.68" height="1.36" fill="#1c1c1c"/><rect x="171.68" y="273.54" width="3.68" height="1.36" fill="none" stroke="#111" stroke-width="0.6"/>
<rect x="175.36" y="274.9" width="3.68" height="11.35" fill="#4c4c4c"/><rect x="176.55" y="274.9" width="1.3" height="11.35" fill="#808080"/><rect x="175.36" y="274.9" width="3.68" height="11.35" fill="none" stroke="#111" stroke-width="0.6"/>
<rect x="179.04" y="257.65" width="3.68" height="17.25" fill="#595959"/><rect x="180.28" y="257.65" width="1.2" height="17.25" fill="#8a8a8a"/><rect x="179.04" y="257.65" width="3.68" height="17.25" fill="none" stroke="#111" stroke-width="0.6"/>
<rect x="182.72" y="271.72" width="3.68" height="3.18" fill="#1e1e1e"/><path d="M184.57,272.32V274.5" stroke="#d0d0d0" stroke-width="1.3" stroke-dasharray="1.0 1.5"/><rect x="182.72" y="271.72" width="3.68" height="3.18" fill="none" stroke="#111" stroke-width="0.6"/>
<rect x="186.41" y="274.9" width="3.68" height="12.71" fill="#0c0c0c"/><path d="M188.43,275.5V287.21" stroke="#c8c8c8" stroke-width="1.2" stroke-dasharray="1.0 1.5"/><rect x="186.41" y="274.9" width="3.68" height="12.71" fill="none" stroke="#111" stroke-width="0.6"/>
<rect x="190.09" y="274.9" width="3.68" height="7.72" fill="#5a5a5a"/><rect x="191.28" y="274.9" width="1.3" height="7.72" fill="#7c7c7c"/><rect x="190.09" y="274.9" width="3.68" height="7.72" fill="none" stroke="#111" stroke-width="0.6"/>
<rect x="193.77" y="274.9" width="3.68" height="19.07" fill="#fbfbfb"/><path d="M196.5,275.5V293.57" stroke="#333333" stroke-width="0.85" stroke-dasharray="0.8 1.6"/><path d="M194.77,276.5V293.57" stroke="#8a8a8a" stroke-width="0.7" stroke-dasharray="0.8 1.6"/><rect x="193.77" y="274.9" width="3.68" height="19.07" fill="none" stroke="#2a2a2a" stroke-width="0.6"/>
<rect x="197.46" y="274.9" width="3.68" height="18.39" fill="#8a8a8a"/><path d="M199.11,275.5V292.89" stroke="#eeeeee" stroke-width="1.3" stroke-dasharray="1.1 1.2"/><rect x="197.46" y="274.9" width="3.68" height="18.39" fill="none" stroke="#111" stroke-width="0.6"/>
<text x="26.8" y="241.18" text-anchor="end" font-size="7.3">8</text>
<text x="26.8" y="250.26" text-anchor="end" font-size="7.3">6</text>
<text x="26.8" y="259.34" text-anchor="end" font-size="7.3">4</text>
<text x="26.8" y="268.42" text-anchor="end" font-size="7.3">2</text>
<text x="26.8" y="277.5" text-anchor="end" font-size="7.3">0</text>
<text x="26.8" y="286.58" text-anchor="end" font-size="7.3">-2</text>
<text x="26.8" y="295.66" text-anchor="end" font-size="7.3">-4</text>
<text x="26.8" y="304.74" text-anchor="end" font-size="7.3">-6</text>
<text x="26.8" y="313.82" text-anchor="end" font-size="7.3">-8</text>
<text x="26.8" y="322.9" text-anchor="end" font-size="7.3">-10</text>
<text transform="translate(16.9,287.9) rotate(-90)" text-anchor="middle" font-size="7.8" textLength="124.4" lengthAdjust="spacingAndGlyphs">Deviation from clean condition in [%]</text>
<text x="55.67" y="334.3" text-anchor="middle" font-size="7.6">-6.5</text>
<text x="98.03" y="334.3" text-anchor="middle" font-size="7.6">-3.5</text>
<text x="140.38" y="334.3" text-anchor="middle" font-size="7.6">3.5</text>
<text x="182.72" y="334.3" text-anchor="middle" font-size="7.6">6.5</text>
<text x="104" y="347.5" text-anchor="middle" font-size="7.8" textLength="122" lengthAdjust="spacingAndGlyphs">Variable Inlet Guide Vane Drift in [°]</text>
<text x="106.7" y="203.6" text-anchor="middle" font-size="9.2" textLength="151.4" lengthAdjust="spacingAndGlyphs">Measurement Deviation vs VIGV Drift at</text>
<text x="106.7" y="214.5" text-anchor="middle" font-size="9.2" textLength="99.3" lengthAdjust="spacingAndGlyphs">100% LPT Fouling Severity</text>
<rect x="87.1" y="218" width="113.1" height="19.4" fill="#fff" stroke="#8c8c8c" stroke-width="0.8"/>
<rect x="90.4" y="220.55" width="4.5" height="4.5" fill="#3a3a3a"/><path d="M91.39,221L93.91,222.3M91.39,223.45L93.91,224.75" stroke="#f2f2f2" stroke-width="1.1" stroke-linecap="round"/><rect x="90.4" y="220.55" width="4.5" height="4.5" fill="none" stroke="#111" stroke-width="0.6"/>
<text x="96.7" y="225.5" font-size="7.9">P24</text>
<rect x="113.4" y="220.55" width="4.5" height="4.5" fill="#1a1a1a"/><path d="M115.65,221.15V224.65" stroke="#f6f6f6" stroke-width="2.1" stroke-dasharray="1.4 0.95"/><rect x="113.4" y="220.55" width="4.5" height="4.5" fill="none" stroke="#111" stroke-width="0.6"/>
<text x="119.7" y="225.5" font-size="7.9">T24</text>
<rect x="136.4" y="220.55" width="4.5" height="4.5" fill="#1c1c1c"/><path d="M137.39,222.3L139.91,221M137.39,224.75L139.91,223.45" stroke="#f4f4f4" stroke-width="1.05" stroke-linecap="round"/><rect x="136.4" y="220.55" width="4.5" height="4.5" fill="none" stroke="#111" stroke-width="0.6"/>
<text x="142.7" y="225.5" font-size="7.9">P3</text>
<rect x="159.4" y="220.55" width="4.5" height="4.5" fill="#4c4c4c"/><rect x="161" y="220.55" width="1.3" height="4.5" fill="#808080"/><rect x="159.4" y="220.55" width="4.5" height="4.5" fill="none" stroke="#111" stroke-width="0.6"/>
<text x="165.7" y="225.5" font-size="7.9">T3</text>
<rect x="182.4" y="220.55" width="4.5" height="4.5" fill="#595959"/><rect x="184.05" y="220.55" width="1.2" height="4.5" fill="#8a8a8a"/><rect x="182.4" y="220.55" width="4.5" height="4.5" fill="none" stroke="#111" stroke-width="0.6"/>
<text x="188.7" y="225.5" font-size="7.9">P43</text>
<rect x="90.4" y="230.15" width="4.5" height="4.5" fill="#1e1e1e"/><path d="M92.65,230.75V234.25" stroke="#d0d0d0" stroke-width="1.3" stroke-dasharray="1.0 1.5"/><rect x="90.4" y="230.15" width="4.5" height="4.5" fill="none" stroke="#111" stroke-width="0.6"/>
<text x="96.7" y="235.1" font-size="7.9">P47</text>
<rect x="113.4" y="230.15" width="4.5" height="4.5" fill="#0c0c0c"/><path d="M115.88,230.75V234.25" stroke="#c8c8c8" stroke-width="1.2" stroke-dasharray="1.0 1.5"/><rect x="113.4" y="230.15" width="4.5" height="4.5" fill="none" stroke="#111" stroke-width="0.6"/>
<text x="119.7" y="235.1" font-size="7.9">T5</text>
<rect x="136.4" y="230.15" width="4.5" height="4.5" fill="#5a5a5a"/><rect x="138" y="230.15" width="1.3" height="4.5" fill="#7c7c7c"/><rect x="136.4" y="230.15" width="4.5" height="4.5" fill="none" stroke="#111" stroke-width="0.6"/>
<text x="142.7" y="235.1" font-size="7.9">FF</text>
<rect x="159.4" y="230.15" width="4.5" height="4.5" fill="#fbfbfb"/><path d="M162.73,230.75V234.25" stroke="#333333" stroke-width="0.85" stroke-dasharray="0.8 1.6"/><path d="M160.62,231.75V234.25" stroke="#8a8a8a" stroke-width="0.7" stroke-dasharray="0.8 1.6"/><rect x="159.4" y="230.15" width="4.5" height="4.5" fill="none" stroke="#2a2a2a" stroke-width="0.6"/>
<text x="165.7" y="235.1" font-size="7.9">N1</text>
<rect x="182.4" y="230.15" width="4.5" height="4.5" fill="#8a8a8a"/><path d="M184.43,230.75V234.25" stroke="#eeeeee" stroke-width="1.3" stroke-dasharray="1.1 1.2"/><rect x="182.4" y="230.15" width="4.5" height="4.5" fill="none" stroke="#111" stroke-width="0.6"/>
<text x="188.7" y="235.1" font-size="7.9">N2</text>
<text x="107.1" y="364.7" text-anchor="middle" font-size="8.4" textLength="10.2" lengthAdjust="spacingAndGlyphs">(<tspan font-weight="bold">g</tspan>)</text>
</g>
<g id="chart-h">
<rect x="220.7" y="188.6" width="211.2" height="163.8" fill="#fff" stroke="#dcdcdc" stroke-width="1.1"/>
<rect x="251.46" y="224" width="180.5" height="94.5" fill="#ffffff"/>
<path d="M251.46,225H431.96M251.46,227H431.96M251.46,229H431.96M251.46,231H431.96M251.46,233H431.96M251.46,235H431.96M251.46,237H431.96M251.46,239H431.96M251.46,241H431.96M251.46,243H431.96M251.46,245H431.96M251.46,247H431.96M251.46,249H431.96M251.46,251H431.96M251.46,253H431.96M251.46,255H431.96M251.46,257H431.96M251.46,259H431.96M251.46,261H431.96M251.46,263H431.96M251.46,265H431.96M251.46,267H431.96M251.46,269H431.96M251.46,271H431.96M251.46,273H431.96M251.46,275H431.96M251.46,277H431.96M251.46,279H431.96M251.46,281H431.96M251.46,283H431.96M251.46,285H431.96M251.46,287H431.96M251.46,289H431.96M251.46,291H431.96M251.46,293H431.96M251.46,295H431.96M251.46,297H431.96M251.46,299H431.96M251.46,301H431.96M251.46,303H431.96M251.46,305H431.96M251.46,307H431.96M251.46,309H431.96M251.46,311H431.96M251.46,313H431.96M251.46,315H431.96M251.46,317H431.96" stroke="#e9e9e9" stroke-width="0.6" fill="none"/>
<path d="M251.46,224V318.5M274.02,224V318.5M296.58,224V318.5M319.15,224V318.5M341.71,224V318.5M364.27,224V318.5M386.83,224V318.5M409.4,224V318.5M431.96,224V318.5" stroke="#eeeeee" stroke-width="0.6" fill="none"/>
<rect x="254.4" y="268.9" width="3.92" height="48.6" fill="#3a3a3a"/><path d="M255.27,269.35L257.46,270.65M255.27,271.8L257.46,273.1M255.27,274.25L257.46,275.55M255.27,276.7L257.46,278M255.27,279.15L257.46,280.45M255.27,281.6L257.46,282.9M255.27,284.05L257.46,285.35M255.27,286.5L257.46,287.8M255.27,288.95L257.46,290.25M255.27,291.4L257.46,292.7M255.27,293.85L257.46,295.15M255.27,296.3L257.46,297.6M255.27,298.75L257.46,300.05M255.27,301.2L257.46,302.5M255.27,303.65L257.46,304.95M255.27,306.1L257.46,307.4M255.27,308.55L257.46,309.85M255.27,311L257.46,312.3M255.27,313.45L257.46,314.75M255.27,315.9L257.46,317.2" stroke="#f2f2f2" stroke-width="1.1" stroke-linecap="round"/><rect x="254.4" y="268.9" width="3.92" height="48.6" fill="none" stroke="#111" stroke-width="0.6"/>
<rect x="258.33" y="268.9" width="3.92" height="1.5" fill="#1a1a1a"/><rect x="258.33" y="268.9" width="3.92" height="1.5" fill="none" stroke="#111" stroke-width="0.6"/>
<rect x="262.25" y="268.9" width="3.92" height="10.02" fill="#1c1c1c"/><path d="M263.11,270.65L265.31,269.35M263.11,273.1L265.31,271.8M263.11,275.55L265.31,274.25M263.11,278L265.31,276.7" stroke="#f4f4f4" stroke-width="1.05" stroke-linecap="round"/><rect x="262.25" y="268.9" width="3.92" height="10.02" fill="none" stroke="#111" stroke-width="0.6"/>
<rect x="266.17" y="252.87" width="3.92" height="16.03" fill="#4c4c4c"/><rect x="267.49" y="252.87" width="1.3" height="16.03" fill="#808080"/><rect x="266.17" y="252.87" width="3.92" height="16.03" fill="none" stroke="#111" stroke-width="0.6"/>
<rect x="270.1" y="268.9" width="3.92" height="25.05" fill="#595959"/><rect x="271.46" y="268.9" width="1.2" height="25.05" fill="#8a8a8a"/><rect x="270.1" y="268.9" width="3.92" height="25.05" fill="none" stroke="#111" stroke-width="0.6"/>
<rect x="274.02" y="268.9" width="3.92" height="8.02" fill="#1e1e1e"/><path d="M275.98,269.5V276.52" stroke="#d0d0d0" stroke-width="1.3" stroke-dasharray="1.0 1.5"/><rect x="274.02" y="268.9" width="3.92" height="8.02" fill="none" stroke="#111" stroke-width="0.6"/>
<rect x="277.95" y="230.07" width="3.92" height="38.83" fill="#0c0c0c"/><path d="M280.1,230.67V268.5" stroke="#c8c8c8" stroke-width="1.2" stroke-dasharray="1.0 1.5"/><rect x="277.95" y="230.07" width="3.92" height="38.83" fill="none" stroke="#111" stroke-width="0.6"/>
<rect x="281.87" y="242.35" width="3.92" height="26.55" fill="#5a5a5a"/><rect x="283.18" y="242.35" width="1.3" height="26.55" fill="#7c7c7c"/><rect x="281.87" y="242.35" width="3.92" height="26.55" fill="none" stroke="#111" stroke-width="0.6"/>
<rect x="285.79" y="254.62" width="3.92" height="14.28" fill="#fbfbfb"/><path d="M288.7,255.22V268.5" stroke="#333333" stroke-width="0.85" stroke-dasharray="0.8 1.6"/><path d="M286.85,256.22V268.5" stroke="#8a8a8a" stroke-width="0.7" stroke-dasharray="0.8 1.6"/><rect x="285.79" y="254.62" width="3.92" height="14.28" fill="none" stroke="#2a2a2a" stroke-width="0.6"/>
<rect x="289.72" y="242.35" width="3.92" height="26.55" fill="#8a8a8a"/><path d="M291.48,242.95V268.5" stroke="#eeeeee" stroke-width="1.3" stroke-dasharray="1.1 1.2"/><rect x="289.72" y="242.35" width="3.92" height="26.55" fill="none" stroke="#111" stroke-width="0.6"/>
<rect x="299.53" y="268.9" width="3.92" height="43.34" fill="#3a3a3a"/><path d="M300.39,269.35L302.59,270.65M300.39,271.8L302.59,273.1M300.39,274.25L302.59,275.55M300.39,276.7L302.59,278M300.39,279.15L302.59,280.45M300.39,281.6L302.59,282.9M300.39,284.05L302.59,285.35M300.39,286.5L302.59,287.8M300.39,288.95L302.59,290.25M300.39,291.4L302.59,292.7M300.39,293.85L302.59,295.15M300.39,296.3L302.59,297.6M300.39,298.75L302.59,300.05M300.39,301.2L302.59,302.5M300.39,303.65L302.59,304.95M300.39,306.1L302.59,307.4M300.39,308.55L302.59,309.85" stroke="#f2f2f2" stroke-width="1.1" stroke-linecap="round"/><rect x="299.53" y="268.9" width="3.92" height="43.34" fill="none" stroke="#111" stroke-width="0.6"/>
<rect x="303.45" y="268.9" width="3.92" height="6.01" fill="#1a1a1a"/><path d="M305.41,269.5V274.51" stroke="#f6f6f6" stroke-width="2.1" stroke-dasharray="1.4 0.95"/><rect x="303.45" y="268.9" width="3.92" height="6.01" fill="none" stroke="#111" stroke-width="0.6"/>
<rect x="307.38" y="268.9" width="3.92" height="6.01" fill="#1c1c1c"/><path d="M308.24,270.65L310.44,269.35M308.24,273.1L310.44,271.8" stroke="#f4f4f4" stroke-width="1.05" stroke-linecap="round"/><rect x="307.38" y="268.9" width="3.92" height="6.01" fill="none" stroke="#111" stroke-width="0.6"/>
<rect x="311.3" y="258.63" width="3.92" height="10.27" fill="#4c4c4c"/><rect x="312.61" y="258.63" width="1.3" height="10.27" fill="#808080"/><rect x="311.3" y="258.63" width="3.92" height="10.27" fill="none" stroke="#111" stroke-width="0.6"/>
<rect x="315.22" y="268.9" width="3.92" height="24.05" fill="#595959"/><rect x="316.59" y="268.9" width="1.2" height="24.05" fill="#8a8a8a"/><rect x="315.22" y="268.9" width="3.92" height="24.05" fill="none" stroke="#111" stroke-width="0.6"/>
<rect x="319.15" y="268.9" width="3.92" height="5.76" fill="#1e1e1e"/><path d="M321.11,269.5V274.26" stroke="#d0d0d0" stroke-width="1.3" stroke-dasharray="1.0 1.5"/><rect x="319.15" y="268.9" width="3.92" height="5.76" fill="none" stroke="#111" stroke-width="0.6"/>
<rect x="323.07" y="240.84" width="3.92" height="28.06" fill="#0c0c0c"/><path d="M325.23,241.44V268.5" stroke="#c8c8c8" stroke-width="1.2" stroke-dasharray="1.0 1.5"/><rect x="323.07" y="240.84" width="3.92" height="28.06" fill="none" stroke="#111" stroke-width="0.6"/>
<rect x="327" y="249.86" width="3.92" height="19.04" fill="#5a5a5a"/><rect x="328.31" y="249.86" width="1.3" height="19.04" fill="#7c7c7c"/><rect x="327" y="249.86" width="3.92" height="19.04" fill="none" stroke="#111" stroke-width="0.6"/>
<rect x="330.92" y="268.65" width="3.92" height="0.6" fill="#fbfbfb"/><rect x="330.92" y="268.65" width="3.92" height="0.6" fill="none" stroke="#2a2a2a" stroke-width="0.6"/>
<rect x="334.84" y="246.35" width="3.92" height="22.54" fill="#8a8a8a"/><path d="M336.61,246.95V268.5" stroke="#eeeeee" stroke-width="1.3" stroke-dasharray="1.1 1.2"/><rect x="334.84" y="246.35" width="3.92" height="22.54" fill="none" stroke="#111" stroke-width="0.6"/>
<rect x="344.65" y="268.9" width="3.92" height="33.32" fill="#3a3a3a"/><path d="M345.52,269.35L347.71,270.65M345.52,271.8L347.71,273.1M345.52,274.25L347.71,275.55M345.52,276.7L347.71,278M345.52,279.15L347.71,280.45M345.52,281.6L347.71,282.9M345.52,284.05L347.71,285.35M345.52,286.5L347.71,287.8M345.52,288.95L347.71,290.25M345.52,291.4L347.71,292.7M345.52,293.85L347.71,295.15M345.52,296.3L347.71,297.6M345.52,298.75L347.71,300.05" stroke="#f2f2f2" stroke-width="1.1" stroke-linecap="round"/><rect x="344.65" y="268.9" width="3.92" height="33.32" fill="none" stroke="#111" stroke-width="0.6"/>
<rect x="348.58" y="268.9" width="3.92" height="13.78" fill="#1a1a1a"/><path d="M350.54,269.5V282.28" stroke="#f6f6f6" stroke-width="2.1" stroke-dasharray="1.4 0.95"/><rect x="348.58" y="268.9" width="3.92" height="13.78" fill="none" stroke="#111" stroke-width="0.6"/>
<rect x="352.5" y="268.9" width="3.92" height="2.76" fill="#1c1c1c"/><path d="M353.36,270.65L355.56,269.35" stroke="#f4f4f4" stroke-width="1.05" stroke-linecap="round"/><rect x="352.5" y="268.9" width="3.92" height="2.76" fill="none" stroke="#111" stroke-width="0.6"/>
<rect x="356.42" y="267.9" width="3.92" height="1" fill="#4c4c4c"/><rect x="356.42" y="267.9" width="3.92" height="1" fill="none" stroke="#111" stroke-width="0.6"/>
<rect x="360.35" y="268.9" width="3.92" height="21.54" fill="#595959"/><rect x="361.71" y="268.9" width="1.2" height="21.54" fill="#8a8a8a"/><rect x="360.35" y="268.9" width="3.92" height="21.54" fill="none" stroke="#111" stroke-width="0.6"/>
<rect x="364.27" y="268.9" width="3.92" height="1.5" fill="#1e1e1e"/><rect x="364.27" y="268.9" width="3.92" height="1.5" fill="none" stroke="#111" stroke-width="0.6"/>
<rect x="368.2" y="258.88" width="3.92" height="10.02" fill="#0c0c0c"/><path d="M370.35,259.48V268.5" stroke="#c8c8c8" stroke-width="1.2" stroke-dasharray="1.0 1.5"/><rect x="368.2" y="258.88" width="3.92" height="10.02" fill="none" stroke="#111" stroke-width="0.6"/>
<rect x="372.12" y="262.64" width="3.92" height="6.26" fill="#5a5a5a"/><rect x="373.43" y="262.64" width="1.3" height="6.26" fill="#7c7c7c"/><rect x="372.12" y="262.64" width="3.92" height="6.26" fill="none" stroke="#111" stroke-width="0.6"/>
<rect x="376.04" y="268.9" width="3.92" height="23.3" fill="#fbfbfb"/><path d="M378.95,269.5V291.8" stroke="#333333" stroke-width="0.85" stroke-dasharray="0.8 1.6"/><path d="M377.1,270.5V291.8" stroke="#8a8a8a" stroke-width="0.7" stroke-dasharray="0.8 1.6"/><rect x="376.04" y="268.9" width="3.92" height="23.3" fill="none" stroke="#2a2a2a" stroke-width="0.6"/>
<rect x="379.97" y="252.87" width="3.92" height="16.03" fill="#8a8a8a"/><path d="M381.73,253.47V268.5" stroke="#eeeeee" stroke-width="1.3" stroke-dasharray="1.1 1.2"/><rect x="379.97" y="252.87" width="3.92" height="16.03" fill="none" stroke="#111" stroke-width="0.6"/>
<rect x="389.78" y="268.9" width="3.92" height="30.56" fill="#3a3a3a"/><path d="M390.64,269.35L392.84,270.65M390.64,271.8L392.84,273.1M390.64,274.25L392.84,275.55M390.64,276.7L392.84,278M390.64,279.15L392.84,280.45M390.64,281.6L392.84,282.9M390.64,284.05L392.84,285.35M390.64,286.5L392.84,287.8M390.64,288.95L392.84,290.25M390.64,291.4L392.84,292.7M390.64,293.85L392.84,295.15M390.64,296.3L392.84,297.6" stroke="#f2f2f2" stroke-width="1.1" stroke-linecap="round"/><rect x="389.78" y="268.9" width="3.92" height="30.56" fill="none" stroke="#111" stroke-width="0.6"/>
<rect x="393.7" y="268.9" width="3.92" height="15.28" fill="#1a1a1a"/><path d="M395.66,269.5V283.78" stroke="#f6f6f6" stroke-width="2.1" stroke-dasharray="1.4 0.95"/><rect x="393.7" y="268.9" width="3.92" height="15.28" fill="none" stroke="#111" stroke-width="0.6"/>
<rect x="397.63" y="268.9" width="3.92" height="1.5" fill="#1c1c1c"/><rect x="397.63" y="268.9" width="3.92" height="1.5" fill="none" stroke="#111" stroke-width="0.6"/>
<rect x="401.55" y="268.9" width="3.92" height="1.5" fill="#4c4c4c"/><rect x="402.86" y="268.9" width="1.3" height="1.5" fill="#808080"/><rect x="401.55" y="268.9" width="3.92" height="1.5" fill="none" stroke="#111" stroke-width="0.6"/>
<rect x="405.47" y="268.9" width="3.92" height="21.04" fill="#595959"/><rect x="406.84" y="268.9" width="1.2" height="21.04" fill="#8a8a8a"/><rect x="405.47" y="268.9" width="3.92" height="21.04" fill="none" stroke="#111" stroke-width="0.6"/>
<rect x="409.4" y="268.9" width="3.92" height="1" fill="#1e1e1e"/><rect x="409.4" y="268.9" width="3.92" height="1" fill="none" stroke="#111" stroke-width="0.6"/>
<rect x="413.32" y="264.14" width="3.92" height="4.76" fill="#0c0c0c"/><path d="M415.48,264.74V268.5" stroke="#c8c8c8" stroke-width="1.2" stroke-dasharray="1.0 1.5"/><rect x="413.32" y="264.14" width="3.92" height="4.76" fill="none" stroke="#111" stroke-width="0.6"/>
<rect x="417.25" y="265.64" width="3.92" height="3.26" fill="#5a5a5a"/><rect x="418.56" y="265.64" width="1.3" height="3.26" fill="#7c7c7c"/><rect x="417.25" y="265.64" width="3.92" height="3.26" fill="none" stroke="#111" stroke-width="0.6"/>
<rect x="421.17" y="268.9" width="3.92" height="32.06" fill="#fbfbfb"/><path d="M424.07,269.5V300.56" stroke="#333333" stroke-width="0.85" stroke-dasharray="0.8 1.6"/><path d="M422.23,270.5V300.56" stroke="#8a8a8a" stroke-width="0.7" stroke-dasharray="0.8 1.6"/><rect x="421.17" y="268.9" width="3.92" height="32.06" fill="none" stroke="#2a2a2a" stroke-width="0.6"/>
<rect x="425.09" y="254.62" width="3.92" height="14.28" fill="#8a8a8a"/><path d="M426.86,255.22V268.5" stroke="#eeeeee" stroke-width="1.3" stroke-dasharray="1.1 1.2"/><rect x="425.09" y="254.62" width="3.92" height="14.28" fill="none" stroke="#111" stroke-width="0.6"/>
<text x="243.9" y="231.42" text-anchor="end" font-size="7.3">8</text>
<text x="243.9" y="241.44" text-anchor="end" font-size="7.3">6</text>
<text x="243.9" y="251.46" text-anchor="end" font-size="7.3">4</text>
<text x="243.9" y="261.48" text-anchor="end" font-size="7.3">2</text>
<text x="243.9" y="271.5" text-anchor="end" font-size="7.3">0</text>
<text x="243.9" y="281.52" text-anchor="end" font-size="7.3">-2</text>
<text x="243.9" y="291.54" text-anchor="end" font-size="7.3">-4</text>
<text x="243.9" y="301.56" text-anchor="end" font-size="7.3">-6</text>
<text x="243.9" y="311.58" text-anchor="end" font-size="7.3">-8</text>
<text x="243.9" y="321.6" text-anchor="end" font-size="7.3">-10</text>
<text transform="translate(231.5,281.8) rotate(-90)" text-anchor="middle" font-size="7.8" textLength="124.4" lengthAdjust="spacingAndGlyphs">Deviation from clean condition in [%]</text>
<text x="274.02" y="332.7" text-anchor="middle" font-size="7.6">-6.5</text>
<text x="319.15" y="332.7" text-anchor="middle" font-size="7.6">-3.5</text>
<text x="364.27" y="332.7" text-anchor="middle" font-size="7.6">3.5</text>
<text x="409.4" y="332.7" text-anchor="middle" font-size="7.6">6.5</text>
<text x="330.75" y="346.8" text-anchor="middle" font-size="7.8" textLength="121.7" lengthAdjust="spacingAndGlyphs">Variable Inlet Guide Vane Drift in [°]</text>
<text x="326" y="203.8" text-anchor="middle" font-size="9.2" textLength="151.1" lengthAdjust="spacingAndGlyphs">Measurement Deviation vs VIGV Drift at</text>
<text x="326" y="214.7" text-anchor="middle" font-size="9.2" textLength="98.4" lengthAdjust="spacingAndGlyphs">100% LPT Erosion Severity</text>
<rect x="306" y="217.8" width="118.3" height="19.7" fill="#fff" stroke="#8c8c8c" stroke-width="0.8"/>
<rect x="309.8" y="220.15" width="4.5" height="4.5" fill="#3a3a3a"/><path d="M310.79,220.6L313.31,221.9M310.79,223.05L313.31,224.35" stroke="#f2f2f2" stroke-width="1.1" stroke-linecap="round"/><rect x="309.8" y="220.15" width="4.5" height="4.5" fill="none" stroke="#111" stroke-width="0.6"/>
<text x="316.1" y="225.1" font-size="7.9">P24</text>
<rect x="333.9" y="220.15" width="4.5" height="4.5" fill="#1a1a1a"/><path d="M336.15,220.75V224.25" stroke="#f6f6f6" stroke-width="2.1" stroke-dasharray="1.4 0.95"/><rect x="333.9" y="220.15" width="4.5" height="4.5" fill="none" stroke="#111" stroke-width="0.6"/>
<text x="340.2" y="225.1" font-size="7.9">T24</text>
<rect x="358" y="220.15" width="4.5" height="4.5" fill="#1c1c1c"/><path d="M358.99,221.9L361.51,220.6M358.99,224.35L361.51,223.05" stroke="#f4f4f4" stroke-width="1.05" stroke-linecap="round"/><rect x="358" y="220.15" width="4.5" height="4.5" fill="none" stroke="#111" stroke-width="0.6"/>
<text x="364.3" y="225.1" font-size="7.9">P3</text>
<rect x="382.1" y="220.15" width="4.5" height="4.5" fill="#4c4c4c"/><rect x="383.7" y="220.15" width="1.3" height="4.5" fill="#808080"/><rect x="382.1" y="220.15" width="4.5" height="4.5" fill="none" stroke="#111" stroke-width="0.6"/>
<text x="388.4" y="225.1" font-size="7.9">T3</text>
<rect x="406.2" y="220.15" width="4.5" height="4.5" fill="#595959"/><rect x="407.85" y="220.15" width="1.2" height="4.5" fill="#8a8a8a"/><rect x="406.2" y="220.15" width="4.5" height="4.5" fill="none" stroke="#111" stroke-width="0.6"/>
<text x="412.5" y="225.1" font-size="7.9">P43</text>
<rect x="309.8" y="229.55" width="4.5" height="4.5" fill="#1e1e1e"/><path d="M312.05,230.15V233.65" stroke="#d0d0d0" stroke-width="1.3" stroke-dasharray="1.0 1.5"/><rect x="309.8" y="229.55" width="4.5" height="4.5" fill="none" stroke="#111" stroke-width="0.6"/>
<text x="316.1" y="234.5" font-size="7.9">P47</text>
<rect x="333.9" y="229.55" width="4.5" height="4.5" fill="#0c0c0c"/><path d="M336.38,230.15V233.65" stroke="#c8c8c8" stroke-width="1.2" stroke-dasharray="1.0 1.5"/><rect x="333.9" y="229.55" width="4.5" height="4.5" fill="none" stroke="#111" stroke-width="0.6"/>
<text x="340.2" y="234.5" font-size="7.9">T5</text>
<rect x="358" y="229.55" width="4.5" height="4.5" fill="#5a5a5a"/><rect x="359.6" y="229.55" width="1.3" height="4.5" fill="#7c7c7c"/><rect x="358" y="229.55" width="4.5" height="4.5" fill="none" stroke="#111" stroke-width="0.6"/>
<text x="364.3" y="234.5" font-size="7.9">FF</text>
<rect x="382.1" y="229.55" width="4.5" height="4.5" fill="#fbfbfb"/><path d="M385.43,230.15V233.65" stroke="#333333" stroke-width="0.85" stroke-dasharray="0.8 1.6"/><path d="M383.31,231.15V233.65" stroke="#8a8a8a" stroke-width="0.7" stroke-dasharray="0.8 1.6"/><rect x="382.1" y="229.55" width="4.5" height="4.5" fill="none" stroke="#2a2a2a" stroke-width="0.6"/>
<text x="388.4" y="234.5" font-size="7.9">N1</text>
<rect x="406.2" y="229.55" width="4.5" height="4.5" fill="#8a8a8a"/><path d="M408.23,230.15V233.65" stroke="#eeeeee" stroke-width="1.3" stroke-dasharray="1.1 1.2"/><rect x="406.2" y="229.55" width="4.5" height="4.5" fill="none" stroke="#111" stroke-width="0.6"/>
<text x="412.5" y="234.5" font-size="7.9">N2</text>
<text x="326.1" y="365" text-anchor="middle" font-size="8.4" textLength="10.3" lengthAdjust="spacingAndGlyphs">(<tspan font-weight="bold">h</tspan>)</text>
</g>
<g id="chart-i">
<rect x="5.2" y="371.4" width="203.6" height="159.8" fill="#fff" stroke="#dcdcdc" stroke-width="1.1"/>
<rect x="37.7" y="407.5" width="171.5" height="93.8" fill="#ffffff"/>
<path d="M37.7,408.5H209.2M37.7,410.5H209.2M37.7,412.5H209.2M37.7,414.5H209.2M37.7,416.5H209.2M37.7,418.5H209.2M37.7,420.5H209.2M37.7,422.5H209.2M37.7,424.5H209.2M37.7,426.5H209.2M37.7,428.5H209.2M37.7,430.5H209.2M37.7,432.5H209.2M37.7,434.5H209.2M37.7,436.5H209.2M37.7,438.5H209.2M37.7,440.5H209.2M37.7,442.5H209.2M37.7,444.5H209.2M37.7,446.5H209.2M37.7,448.5H209.2M37.7,450.5H209.2M37.7,452.5H209.2M37.7,454.5H209.2M37.7,456.5H209.2M37.7,458.5H209.2M37.7,460.5H209.2M37.7,462.5H209.2M37.7,464.5H209.2M37.7,466.5H209.2M37.7,468.5H209.2M37.7,470.5H209.2M37.7,472.5H209.2M37.7,474.5H209.2M37.7,476.5H209.2M37.7,478.5H209.2M37.7,480.5H209.2M37.7,482.5H209.2M37.7,484.5H209.2M37.7,486.5H209.2M37.7,488.5H209.2M37.7,490.5H209.2M37.7,492.5H209.2M37.7,494.5H209.2M37.7,496.5H209.2M37.7,498.5H209.2M37.7,500.5H209.2" stroke="#e9e9e9" stroke-width="0.6" fill="none"/>
<path d="M37.7,407.5V501.3M59.14,407.5V501.3M80.58,407.5V501.3M102.01,407.5V501.3M123.45,407.5V501.3M144.89,407.5V501.3M166.32,407.5V501.3M187.76,407.5V501.3M209.2,407.5V501.3" stroke="#eeeeee" stroke-width="0.6" fill="none"/>
<rect x="40.5" y="471.5" width="3.73" height="26.23" fill="#3a3a3a"/><path d="M41.32,471.95L43.4,473.25M41.32,474.4L43.4,475.7M41.32,476.85L43.4,478.15M41.32,479.3L43.4,480.6M41.32,481.75L43.4,483.05M41.32,484.2L43.4,485.5M41.32,486.65L43.4,487.95M41.32,489.1L43.4,490.4M41.32,491.55L43.4,492.85M41.32,494L43.4,495.3" stroke="#f2f2f2" stroke-width="1.1" stroke-linecap="round"/><rect x="40.5" y="471.5" width="3.73" height="26.23" fill="none" stroke="#111" stroke-width="0.6"/>
<rect x="44.22" y="470.01" width="3.73" height="1.49" fill="#1a1a1a"/><rect x="44.22" y="470.01" width="3.73" height="1.49" fill="none" stroke="#111" stroke-width="0.6"/>
<rect x="47.95" y="471.5" width="3.73" height="10.89" fill="#1c1c1c"/><path d="M48.77,473.25L50.86,471.95M48.77,475.7L50.86,474.4M48.77,478.15L50.86,476.85M48.77,480.6L50.86,479.3" stroke="#f4f4f4" stroke-width="1.05" stroke-linecap="round"/><rect x="47.95" y="471.5" width="3.73" height="10.89" fill="none" stroke="#111" stroke-width="0.6"/>
<rect x="51.68" y="464.57" width="3.73" height="6.93" fill="#4c4c4c"/><rect x="52.9" y="464.57" width="1.3" height="6.93" fill="#808080"/><rect x="51.68" y="464.57" width="3.73" height="6.93" fill="none" stroke="#111" stroke-width="0.6"/>
<rect x="55.41" y="471.5" width="3.73" height="3.96" fill="#595959"/><rect x="56.67" y="471.5" width="1.2" height="3.96" fill="#8a8a8a"/><rect x="55.41" y="471.5" width="3.73" height="3.96" fill="none" stroke="#111" stroke-width="0.6"/>
<rect x="59.14" y="458.63" width="3.73" height="12.87" fill="#1e1e1e"/><path d="M61,459.23V471.1" stroke="#d0d0d0" stroke-width="1.3" stroke-dasharray="1.0 1.5"/><rect x="59.14" y="458.63" width="3.73" height="12.87" fill="none" stroke="#111" stroke-width="0.6"/>
<rect x="62.87" y="436.85" width="3.73" height="34.65" fill="#0c0c0c"/><path d="M64.92,437.45V471.1" stroke="#c8c8c8" stroke-width="1.2" stroke-dasharray="1.0 1.5"/><rect x="62.87" y="436.85" width="3.73" height="34.65" fill="none" stroke="#111" stroke-width="0.6"/>
<rect x="66.59" y="447.74" width="3.73" height="23.76" fill="#5a5a5a"/><rect x="67.81" y="447.74" width="1.3" height="23.76" fill="#7c7c7c"/><rect x="66.59" y="447.74" width="3.73" height="23.76" fill="none" stroke="#111" stroke-width="0.6"/>
<rect x="70.32" y="453.43" width="3.73" height="18.07" fill="#fbfbfb"/><path d="M73.08,454.03V471.1" stroke="#333333" stroke-width="0.85" stroke-dasharray="0.8 1.6"/><path d="M71.33,455.03V471.1" stroke="#8a8a8a" stroke-width="0.7" stroke-dasharray="0.8 1.6"/><rect x="70.32" y="453.43" width="3.73" height="18.07" fill="none" stroke="#2a2a2a" stroke-width="0.6"/>
<rect x="74.05" y="466.06" width="3.73" height="5.45" fill="#8a8a8a"/><path d="M75.73,466.66V471.1" stroke="#eeeeee" stroke-width="1.3" stroke-dasharray="1.1 1.2"/><rect x="74.05" y="466.06" width="3.73" height="5.45" fill="none" stroke="#111" stroke-width="0.6"/>
<rect x="83.37" y="471.5" width="3.73" height="20.54" fill="#3a3a3a"/><path d="M84.19,471.95L86.28,473.25M84.19,474.4L86.28,475.7M84.19,476.85L86.28,478.15M84.19,479.3L86.28,480.6M84.19,481.75L86.28,483.05M84.19,484.2L86.28,485.5M84.19,486.65L86.28,487.95M84.19,489.1L86.28,490.4" stroke="#f2f2f2" stroke-width="1.1" stroke-linecap="round"/><rect x="83.37" y="471.5" width="3.73" height="20.54" fill="none" stroke="#111" stroke-width="0.6"/>
<rect x="87.1" y="471.5" width="3.73" height="2.48" fill="#1a1a1a"/><path d="M88.96,472.1V473.58" stroke="#f6f6f6" stroke-width="2.1" stroke-dasharray="1.4 0.95"/><rect x="87.1" y="471.5" width="3.73" height="2.48" fill="none" stroke="#111" stroke-width="0.6"/>
<rect x="90.83" y="471.5" width="3.73" height="7.67" fill="#1c1c1c"/><path d="M91.65,473.25L93.74,471.95M91.65,475.7L93.74,474.4M91.65,478.15L93.74,476.85" stroke="#f4f4f4" stroke-width="1.05" stroke-linecap="round"/><rect x="90.83" y="471.5" width="3.73" height="7.67" fill="none" stroke="#111" stroke-width="0.6"/>
<rect x="94.56" y="470.01" width="3.73" height="1.49" fill="#4c4c4c"/><rect x="95.77" y="470.01" width="1.3" height="1.49" fill="#808080"/><rect x="94.56" y="470.01" width="3.73" height="1.49" fill="none" stroke="#111" stroke-width="0.6"/>
<rect x="98.28" y="471.5" width="3.73" height="2.48" fill="#595959"/><rect x="99.55" y="471.5" width="1.2" height="2.48" fill="#8a8a8a"/><rect x="98.28" y="471.5" width="3.73" height="2.48" fill="none" stroke="#111" stroke-width="0.6"/>
<rect x="102.01" y="455.66" width="3.73" height="15.84" fill="#1e1e1e"/><path d="M103.88,456.26V471.1" stroke="#d0d0d0" stroke-width="1.3" stroke-dasharray="1.0 1.5"/><rect x="102.01" y="455.66" width="3.73" height="15.84" fill="none" stroke="#111" stroke-width="0.6"/>
<rect x="105.74" y="447.49" width="3.73" height="24.01" fill="#0c0c0c"/><path d="M107.79,448.09V471.1" stroke="#c8c8c8" stroke-width="1.2" stroke-dasharray="1.0 1.5"/><rect x="105.74" y="447.49" width="3.73" height="24.01" fill="none" stroke="#111" stroke-width="0.6"/>
<rect x="109.47" y="455.17" width="3.73" height="16.34" fill="#5a5a5a"/><rect x="110.68" y="455.17" width="1.3" height="16.34" fill="#7c7c7c"/><rect x="109.47" y="455.17" width="3.73" height="16.34" fill="none" stroke="#111" stroke-width="0.6"/>
<rect x="113.2" y="467.79" width="3.73" height="3.71" fill="#fbfbfb"/><path d="M115.96,468.39V471.1" stroke="#333333" stroke-width="0.85" stroke-dasharray="0.8 1.6"/><path d="M114.2,469.39V471.1" stroke="#8a8a8a" stroke-width="0.7" stroke-dasharray="0.8 1.6"/><rect x="113.2" y="467.79" width="3.73" height="3.71" fill="none" stroke="#2a2a2a" stroke-width="0.6"/>
<rect x="116.93" y="469.52" width="3.73" height="1.98" fill="#8a8a8a"/><path d="M118.6,470.12V471.1" stroke="#eeeeee" stroke-width="1.3" stroke-dasharray="1.1 1.2"/><rect x="116.93" y="469.52" width="3.73" height="1.98" fill="none" stroke="#111" stroke-width="0.6"/>
<rect x="126.25" y="471.5" width="3.73" height="10.4" fill="#3a3a3a"/><path d="M127.07,471.95L129.15,473.25M127.07,474.4L129.15,475.7M127.07,476.85L129.15,478.15M127.07,479.3L129.15,480.6" stroke="#f2f2f2" stroke-width="1.1" stroke-linecap="round"/><rect x="126.25" y="471.5" width="3.73" height="10.4" fill="none" stroke="#111" stroke-width="0.6"/>
<rect x="129.97" y="471.5" width="3.73" height="9.9" fill="#1a1a1a"/><path d="M131.84,472.1V481" stroke="#f6f6f6" stroke-width="2.1" stroke-dasharray="1.4 0.95"/><rect x="129.97" y="471.5" width="3.73" height="9.9" fill="none" stroke="#111" stroke-width="0.6"/>
<rect x="133.7" y="471.5" width="3.73" height="4.95" fill="#1c1c1c"/><path d="M134.52,473.25L136.61,471.95M134.52,475.7L136.61,474.4" stroke="#f4f4f4" stroke-width="1.05" stroke-linecap="round"/><rect x="133.7" y="471.5" width="3.73" height="4.95" fill="none" stroke="#111" stroke-width="0.6"/>
<rect x="137.43" y="471.5" width="3.73" height="7.43" fill="#4c4c4c"/><rect x="138.65" y="471.5" width="1.3" height="7.43" fill="#808080"/><rect x="137.43" y="471.5" width="3.73" height="7.43" fill="none" stroke="#111" stroke-width="0.6"/>
<rect x="141.16" y="471.25" width="3.73" height="0.6" fill="#595959"/><rect x="141.16" y="471.25" width="3.73" height="0.6" fill="none" stroke="#111" stroke-width="0.6"/>
<rect x="144.89" y="452.44" width="3.73" height="19.06" fill="#1e1e1e"/><path d="M146.75,453.04V471.1" stroke="#d0d0d0" stroke-width="1.3" stroke-dasharray="1.0 1.5"/><rect x="144.89" y="452.44" width="3.73" height="19.06" fill="none" stroke="#111" stroke-width="0.6"/>
<rect x="148.62" y="467.05" width="3.73" height="4.46" fill="#0c0c0c"/><path d="M150.67,467.65V471.1" stroke="#c8c8c8" stroke-width="1.2" stroke-dasharray="1.0 1.5"/><rect x="148.62" y="467.05" width="3.73" height="4.46" fill="none" stroke="#111" stroke-width="0.6"/>
<rect x="152.34" y="468.28" width="3.73" height="3.22" fill="#5a5a5a"/><rect x="153.56" y="468.28" width="1.3" height="3.22" fill="#7c7c7c"/><rect x="152.34" y="468.28" width="3.73" height="3.22" fill="none" stroke="#111" stroke-width="0.6"/>
<rect x="156.07" y="471.5" width="3.73" height="20.54" fill="#fbfbfb"/><path d="M158.83,472.1V491.64" stroke="#333333" stroke-width="0.85" stroke-dasharray="0.8 1.6"/><path d="M157.08,473.1V491.64" stroke="#8a8a8a" stroke-width="0.7" stroke-dasharray="0.8 1.6"/><rect x="156.07" y="471.5" width="3.73" height="20.54" fill="none" stroke="#2a2a2a" stroke-width="0.6"/>
<rect x="159.8" y="471.5" width="3.73" height="3.22" fill="#8a8a8a"/><path d="M161.48,472.1V474.32" stroke="#eeeeee" stroke-width="1.3" stroke-dasharray="1.1 1.2"/><rect x="159.8" y="471.5" width="3.73" height="3.22" fill="none" stroke="#111" stroke-width="0.6"/>
<rect x="169.12" y="471.5" width="3.73" height="7.43" fill="#3a3a3a"/><path d="M169.94,471.95L172.03,473.25M169.94,474.4L172.03,475.7M169.94,476.85L172.03,478.15" stroke="#f2f2f2" stroke-width="1.1" stroke-linecap="round"/><rect x="169.12" y="471.5" width="3.73" height="7.43" fill="none" stroke="#111" stroke-width="0.6"/>
<rect x="172.85" y="471.5" width="3.73" height="11.38" fill="#1a1a1a"/><path d="M174.71,472.1V482.49" stroke="#f6f6f6" stroke-width="2.1" stroke-dasharray="1.4 0.95"/><rect x="172.85" y="471.5" width="3.73" height="11.38" fill="none" stroke="#111" stroke-width="0.6"/>
<rect x="176.58" y="471.5" width="3.73" height="3.46" fill="#1c1c1c"/><path d="M177.4,473.25L179.49,471.95" stroke="#f4f4f4" stroke-width="1.05" stroke-linecap="round"/><rect x="176.58" y="471.5" width="3.73" height="3.46" fill="none" stroke="#111" stroke-width="0.6"/>
<rect x="180.31" y="471.5" width="3.73" height="9.4" fill="#4c4c4c"/><rect x="181.52" y="471.5" width="1.3" height="9.4" fill="#808080"/><rect x="180.31" y="471.5" width="3.73" height="9.4" fill="none" stroke="#111" stroke-width="0.6"/>
<rect x="184.03" y="471.25" width="3.73" height="0.6" fill="#595959"/><rect x="184.03" y="471.25" width="3.73" height="0.6" fill="none" stroke="#111" stroke-width="0.6"/>
<rect x="187.76" y="451.45" width="3.73" height="20.05" fill="#1e1e1e"/><path d="M189.63,452.05V471.1" stroke="#d0d0d0" stroke-width="1.3" stroke-dasharray="1.0 1.5"/><rect x="187.76" y="451.45" width="3.73" height="20.05" fill="none" stroke="#111" stroke-width="0.6"/>
<rect x="191.49" y="471" width="3.73" height="0.6" fill="#0c0c0c"/><rect x="191.49" y="471" width="3.73" height="0.6" fill="none" stroke="#111" stroke-width="0.6"/>
<rect x="195.22" y="471.25" width="3.73" height="0.6" fill="#5a5a5a"/><rect x="195.22" y="471.25" width="3.73" height="0.6" fill="none" stroke="#111" stroke-width="0.6"/>
<rect x="198.95" y="471.5" width="3.73" height="29.7" fill="#fbfbfb"/><path d="M201.71,472.1V500.8" stroke="#333333" stroke-width="0.85" stroke-dasharray="0.8 1.6"/><path d="M199.95,473.1V500.8" stroke="#8a8a8a" stroke-width="0.7" stroke-dasharray="0.8 1.6"/><rect x="198.95" y="471.5" width="3.73" height="29.7" fill="none" stroke="#2a2a2a" stroke-width="0.6"/>
<rect x="202.68" y="471.5" width="3.73" height="3.46" fill="#8a8a8a"/><path d="M204.35,472.1V474.56" stroke="#eeeeee" stroke-width="1.3" stroke-dasharray="1.1 1.2"/><rect x="202.68" y="471.5" width="3.73" height="3.46" fill="none" stroke="#111" stroke-width="0.6"/>
<text x="29.8" y="414.7" text-anchor="end" font-size="7.3">12</text>
<text x="29.8" y="424.6" text-anchor="end" font-size="7.3">10</text>
<text x="29.8" y="434.5" text-anchor="end" font-size="7.3">8</text>
<text x="29.8" y="444.4" text-anchor="end" font-size="7.3">6</text>
<text x="29.8" y="454.3" text-anchor="end" font-size="7.3">4</text>
<text x="29.8" y="464.2" text-anchor="end" font-size="7.3">2</text>
<text x="29.8" y="474.1" text-anchor="end" font-size="7.3">0</text>
<text x="29.8" y="484" text-anchor="end" font-size="7.3">-2</text>
<text x="29.8" y="493.9" text-anchor="end" font-size="7.3">-4</text>
<text x="29.8" y="503.8" text-anchor="end" font-size="7.3">-6</text>
<text transform="translate(16.9,449.8) rotate(-90)" text-anchor="middle" font-size="7.8" textLength="111.4" lengthAdjust="spacingAndGlyphs">Deviation from clean condition in</text>
<text transform="translate(26.7,449.8) rotate(-90)" text-anchor="middle" font-size="7.8" textLength="9.5" lengthAdjust="spacingAndGlyphs">[%]</text>
<text x="59.14" y="514.5" text-anchor="middle" font-size="7.6">-6.5</text>
<text x="102.01" y="514.5" text-anchor="middle" font-size="7.6">-3.5</text>
<text x="144.89" y="514.5" text-anchor="middle" font-size="7.6">3.5</text>
<text x="187.76" y="514.5" text-anchor="middle" font-size="7.6">6.5</text>
<text x="111" y="528.1" text-anchor="middle" font-size="7.8" textLength="122" lengthAdjust="spacingAndGlyphs">Variable Inlet Guide Vane Drift in [°]</text>
<text x="107.2" y="386.4" text-anchor="middle" font-size="9.2" textLength="151.6" lengthAdjust="spacingAndGlyphs">Measurement Deviation vs VIGV Drift at</text>
<text x="107.2" y="397.4" text-anchor="middle" font-size="9.2" textLength="93.5" lengthAdjust="spacingAndGlyphs">100% PT Fouling Severity</text>
<rect x="77.7" y="405.6" width="120.1" height="20.3" fill="#fff" stroke="#8c8c8c" stroke-width="0.8"/>
<rect x="81.8" y="408.35" width="4.5" height="4.5" fill="#3a3a3a"/><path d="M82.79,408.8L85.31,410.1M82.79,411.25L85.31,412.55" stroke="#f2f2f2" stroke-width="1.1" stroke-linecap="round"/><rect x="81.8" y="408.35" width="4.5" height="4.5" fill="none" stroke="#111" stroke-width="0.6"/>
<text x="88.1" y="413.3" font-size="7.9">P24</text>
<rect x="105.6" y="408.35" width="4.5" height="4.5" fill="#1a1a1a"/><path d="M107.85,408.95V412.45" stroke="#f6f6f6" stroke-width="2.1" stroke-dasharray="1.4 0.95"/><rect x="105.6" y="408.35" width="4.5" height="4.5" fill="none" stroke="#111" stroke-width="0.6"/>
<text x="111.9" y="413.3" font-size="7.9">T24</text>
<rect x="129.4" y="408.35" width="4.5" height="4.5" fill="#1c1c1c"/><path d="M130.39,410.1L132.91,408.8M130.39,412.55L132.91,411.25" stroke="#f4f4f4" stroke-width="1.05" stroke-linecap="round"/><rect x="129.4" y="408.35" width="4.5" height="4.5" fill="none" stroke="#111" stroke-width="0.6"/>
<text x="135.7" y="413.3" font-size="7.9">P3</text>
<rect x="153.2" y="408.35" width="4.5" height="4.5" fill="#4c4c4c"/><rect x="154.8" y="408.35" width="1.3" height="4.5" fill="#808080"/><rect x="153.2" y="408.35" width="4.5" height="4.5" fill="none" stroke="#111" stroke-width="0.6"/>
<text x="159.5" y="413.3" font-size="7.9">T3</text>
<rect x="177" y="408.35" width="4.5" height="4.5" fill="#595959"/><rect x="178.65" y="408.35" width="1.2" height="4.5" fill="#8a8a8a"/><rect x="177" y="408.35" width="4.5" height="4.5" fill="none" stroke="#111" stroke-width="0.6"/>
<text x="183.3" y="413.3" font-size="7.9">P43</text>
<rect x="81.8" y="418.05" width="4.5" height="4.5" fill="#1e1e1e"/><path d="M84.05,418.65V422.15" stroke="#d0d0d0" stroke-width="1.3" stroke-dasharray="1.0 1.5"/><rect x="81.8" y="418.05" width="4.5" height="4.5" fill="none" stroke="#111" stroke-width="0.6"/>
<text x="88.1" y="423" font-size="7.9">P47</text>
<rect x="105.6" y="418.05" width="4.5" height="4.5" fill="#0c0c0c"/><path d="M108.07,418.65V422.15" stroke="#c8c8c8" stroke-width="1.2" stroke-dasharray="1.0 1.5"/><rect x="105.6" y="418.05" width="4.5" height="4.5" fill="none" stroke="#111" stroke-width="0.6"/>
<text x="111.9" y="423" font-size="7.9">T5</text>
<rect x="129.4" y="418.05" width="4.5" height="4.5" fill="#5a5a5a"/><rect x="131" y="418.05" width="1.3" height="4.5" fill="#7c7c7c"/><rect x="129.4" y="418.05" width="4.5" height="4.5" fill="none" stroke="#111" stroke-width="0.6"/>
<text x="135.7" y="423" font-size="7.9">FF</text>
<rect x="153.2" y="418.05" width="4.5" height="4.5" fill="#fbfbfb"/><path d="M156.53,418.65V422.15" stroke="#333333" stroke-width="0.85" stroke-dasharray="0.8 1.6"/><path d="M154.41,419.65V422.15" stroke="#8a8a8a" stroke-width="0.7" stroke-dasharray="0.8 1.6"/><rect x="153.2" y="418.05" width="4.5" height="4.5" fill="none" stroke="#2a2a2a" stroke-width="0.6"/>
<text x="159.5" y="423" font-size="7.9">N1</text>
<rect x="177" y="418.05" width="4.5" height="4.5" fill="#8a8a8a"/><path d="M179.03,418.65V422.15" stroke="#eeeeee" stroke-width="1.3" stroke-dasharray="1.1 1.2"/><rect x="177" y="418.05" width="4.5" height="4.5" fill="none" stroke="#111" stroke-width="0.6"/>
<text x="183.3" y="423" font-size="7.9">N2</text>
<text x="107.4" y="545.2" text-anchor="middle" font-size="8.4" textLength="8" lengthAdjust="spacingAndGlyphs">(<tspan font-weight="bold">i</tspan>)</text>
</g>
<g id="chart-j">
<rect x="219.4" y="369.8" width="212.3" height="162.1" fill="#fff" stroke="#dcdcdc" stroke-width="1.1"/>
<rect x="251.36" y="410.4" width="180.48" height="92.6" fill="#ffffff"/>
<path d="M251.36,411.4H431.84M251.36,413.4H431.84M251.36,415.4H431.84M251.36,417.4H431.84M251.36,419.4H431.84M251.36,421.4H431.84M251.36,423.4H431.84M251.36,425.4H431.84M251.36,427.4H431.84M251.36,429.4H431.84M251.36,431.4H431.84M251.36,433.4H431.84M251.36,435.4H431.84M251.36,437.4H431.84M251.36,439.4H431.84M251.36,441.4H431.84M251.36,443.4H431.84M251.36,445.4H431.84M251.36,447.4H431.84M251.36,449.4H431.84M251.36,451.4H431.84M251.36,453.4H431.84M251.36,455.4H431.84M251.36,457.4H431.84M251.36,459.4H431.84M251.36,461.4H431.84M251.36,463.4H431.84M251.36,465.4H431.84M251.36,467.4H431.84M251.36,469.4H431.84M251.36,471.4H431.84M251.36,473.4H431.84M251.36,475.4H431.84M251.36,477.4H431.84M251.36,479.4H431.84M251.36,481.4H431.84M251.36,483.4H431.84M251.36,485.4H431.84M251.36,487.4H431.84M251.36,489.4H431.84M251.36,491.4H431.84M251.36,493.4H431.84M251.36,495.4H431.84M251.36,497.4H431.84M251.36,499.4H431.84M251.36,501.4H431.84" stroke="#e9e9e9" stroke-width="0.6" fill="none"/>
<path d="M251.36,410.4V503M273.92,410.4V503M296.48,410.4V503M319.04,410.4V503M341.6,410.4V503M364.16,410.4V503M386.72,410.4V503M409.28,410.4V503M431.84,410.4V503" stroke="#eeeeee" stroke-width="0.6" fill="none"/>
<path d="M251.36,473.6H431.84" stroke="#262626" stroke-width="0.8"/>
<rect x="254.3" y="466.5" width="3.92" height="7.11" fill="#3a3a3a"/><path d="M255.17,466.94L257.36,468.25M255.17,469.39L257.36,470.69M255.17,471.84L257.36,473.14" stroke="#f2f2f2" stroke-width="1.1" stroke-linecap="round"/><rect x="254.3" y="466.5" width="3.92" height="7.11" fill="none" stroke="#111" stroke-width="0.6"/>
<rect x="258.23" y="452.53" width="3.92" height="21.07" fill="#1a1a1a"/><path d="M260.19,453.13V473.2" stroke="#f6f6f6" stroke-width="2.1" stroke-dasharray="1.4 0.95"/><rect x="258.23" y="452.53" width="3.92" height="21.07" fill="none" stroke="#111" stroke-width="0.6"/>
<rect x="262.15" y="461.6" width="3.92" height="12.01" fill="#1c1c1c"/><path d="M263.01,463.35L265.21,462.05M263.01,465.8L265.21,464.5M263.01,468.25L265.21,466.94M263.01,470.7L265.21,469.4M263.01,473.15L265.21,471.85" stroke="#f4f4f4" stroke-width="1.05" stroke-linecap="round"/><rect x="262.15" y="461.6" width="3.92" height="12.01" fill="none" stroke="#111" stroke-width="0.6"/>
<rect x="266.07" y="452.04" width="3.92" height="21.56" fill="#4c4c4c"/><rect x="267.38" y="452.04" width="1.3" height="21.56" fill="#808080"/><rect x="266.07" y="452.04" width="3.92" height="21.56" fill="none" stroke="#111" stroke-width="0.6"/>
<rect x="270" y="461.6" width="3.92" height="12.01" fill="#595959"/><rect x="271.36" y="461.6" width="1.2" height="12.01" fill="#8a8a8a"/><rect x="270" y="461.6" width="3.92" height="12.01" fill="none" stroke="#111" stroke-width="0.6"/>
<rect x="273.92" y="473.6" width="3.92" height="8.33" fill="#1e1e1e"/><path d="M275.88,474.2V481.53" stroke="#d0d0d0" stroke-width="1.3" stroke-dasharray="1.0 1.5"/><rect x="273.92" y="473.6" width="3.92" height="8.33" fill="none" stroke="#111" stroke-width="0.6"/>
<rect x="277.84" y="443.22" width="3.92" height="30.38" fill="#0c0c0c"/><path d="M280,443.82V473.2" stroke="#c8c8c8" stroke-width="1.2" stroke-dasharray="1.0 1.5"/><rect x="277.84" y="443.22" width="3.92" height="30.38" fill="none" stroke="#111" stroke-width="0.6"/>
<rect x="281.77" y="439.3" width="3.92" height="34.3" fill="#5a5a5a"/><rect x="283.08" y="439.3" width="1.3" height="34.3" fill="#7c7c7c"/><rect x="281.77" y="439.3" width="3.92" height="34.3" fill="none" stroke="#111" stroke-width="0.6"/>
<rect x="285.69" y="413.33" width="3.92" height="60.27" fill="#fbfbfb"/><path d="M288.59,413.93V473.2" stroke="#333333" stroke-width="0.85" stroke-dasharray="0.8 1.6"/><path d="M286.75,414.93V473.2" stroke="#8a8a8a" stroke-width="0.7" stroke-dasharray="0.8 1.6"/><rect x="285.69" y="413.33" width="3.92" height="60.27" fill="none" stroke="#2a2a2a" stroke-width="0.6"/>
<rect x="289.61" y="460.37" width="3.92" height="13.23" fill="#8a8a8a"/><path d="M291.38,460.97V473.2" stroke="#eeeeee" stroke-width="1.3" stroke-dasharray="1.1 1.2"/><rect x="289.61" y="460.37" width="3.92" height="13.23" fill="none" stroke="#111" stroke-width="0.6"/>
<rect x="299.42" y="461.11" width="3.92" height="12.49" fill="#3a3a3a"/><path d="M300.29,461.56L302.48,462.86M300.29,464L302.48,465.31M300.29,466.45L302.48,467.75M300.29,468.91L302.48,470.21M300.29,471.36L302.48,472.66" stroke="#f2f2f2" stroke-width="1.1" stroke-linecap="round"/><rect x="299.42" y="461.11" width="3.92" height="12.49" fill="none" stroke="#111" stroke-width="0.6"/>
<rect x="303.35" y="456.7" width="3.92" height="16.91" fill="#1a1a1a"/><path d="M305.31,457.3V473.2" stroke="#f6f6f6" stroke-width="2.1" stroke-dasharray="1.4 0.95"/><rect x="303.35" y="456.7" width="3.92" height="16.91" fill="none" stroke="#111" stroke-width="0.6"/>
<rect x="307.27" y="458.41" width="3.92" height="15.19" fill="#1c1c1c"/><path d="M308.13,460.16L310.33,458.86M308.13,462.61L310.33,461.31M308.13,465.06L310.33,463.76M308.13,467.51L310.33,466.21M308.13,469.96L310.33,468.66M308.13,472.41L310.33,471.11" stroke="#f4f4f4" stroke-width="1.05" stroke-linecap="round"/><rect x="307.27" y="458.41" width="3.92" height="15.19" fill="none" stroke="#111" stroke-width="0.6"/>
<rect x="311.19" y="456.7" width="3.92" height="16.91" fill="#4c4c4c"/><rect x="312.5" y="456.7" width="1.3" height="16.91" fill="#808080"/><rect x="311.19" y="456.7" width="3.92" height="16.91" fill="none" stroke="#111" stroke-width="0.6"/>
<rect x="315.12" y="460.37" width="3.92" height="13.23" fill="#595959"/><rect x="316.48" y="460.37" width="1.2" height="13.23" fill="#8a8a8a"/><rect x="315.12" y="460.37" width="3.92" height="13.23" fill="none" stroke="#111" stroke-width="0.6"/>
<rect x="319.04" y="473.6" width="3.92" height="5.88" fill="#1e1e1e"/><path d="M321,474.2V479.08" stroke="#d0d0d0" stroke-width="1.3" stroke-dasharray="1.0 1.5"/><rect x="319.04" y="473.6" width="3.92" height="5.88" fill="none" stroke="#111" stroke-width="0.6"/>
<rect x="322.96" y="452.78" width="3.92" height="20.83" fill="#0c0c0c"/><path d="M325.12,453.38V473.2" stroke="#c8c8c8" stroke-width="1.2" stroke-dasharray="1.0 1.5"/><rect x="322.96" y="452.78" width="3.92" height="20.83" fill="none" stroke="#111" stroke-width="0.6"/>
<rect x="326.89" y="445.92" width="3.92" height="27.69" fill="#5a5a5a"/><rect x="328.2" y="445.92" width="1.3" height="27.69" fill="#7c7c7c"/><rect x="326.89" y="445.92" width="3.92" height="27.69" fill="none" stroke="#111" stroke-width="0.6"/>
<rect x="330.81" y="431.95" width="3.92" height="41.65" fill="#fbfbfb"/><path d="M333.71,432.55V473.2" stroke="#333333" stroke-width="0.85" stroke-dasharray="0.8 1.6"/><path d="M331.87,433.55V473.2" stroke="#8a8a8a" stroke-width="0.7" stroke-dasharray="0.8 1.6"/><rect x="330.81" y="431.95" width="3.92" height="41.65" fill="none" stroke="#2a2a2a" stroke-width="0.6"/>
<rect x="334.73" y="463.06" width="3.92" height="10.54" fill="#8a8a8a"/><path d="M336.5,463.67V473.2" stroke="#eeeeee" stroke-width="1.3" stroke-dasharray="1.1 1.2"/><rect x="334.73" y="463.06" width="3.92" height="10.54" fill="none" stroke="#111" stroke-width="0.6"/>
<rect x="344.54" y="448.86" width="3.92" height="24.75" fill="#3a3a3a"/><path d="M345.41,449.31L347.6,450.61M345.41,451.75L347.6,453.06M345.41,454.2L347.6,455.5M345.41,456.66L347.6,457.96M345.41,459.11L347.6,460.41M345.41,461.56L347.6,462.86M345.41,464L347.6,465.31M345.41,466.45L347.6,467.75M345.41,468.91L347.6,470.21M345.41,471.36L347.6,472.66" stroke="#f2f2f2" stroke-width="1.1" stroke-linecap="round"/><rect x="344.54" y="448.86" width="3.92" height="24.75" fill="none" stroke="#111" stroke-width="0.6"/>
<rect x="348.47" y="465.52" width="3.92" height="8.09" fill="#1a1a1a"/><path d="M350.43,466.12V473.2" stroke="#f6f6f6" stroke-width="2.1" stroke-dasharray="1.4 0.95"/><rect x="348.47" y="465.52" width="3.92" height="8.09" fill="none" stroke="#111" stroke-width="0.6"/>
<rect x="352.39" y="453.27" width="3.92" height="20.34" fill="#1c1c1c"/><path d="M353.25,455.02L355.45,453.72M353.25,457.47L355.45,456.17M353.25,459.92L355.45,458.62M353.25,462.37L355.45,461.07M353.25,464.82L355.45,463.52M353.25,467.27L355.45,465.97M353.25,469.72L355.45,468.42M353.25,472.17L355.45,470.87" stroke="#f4f4f4" stroke-width="1.05" stroke-linecap="round"/><rect x="352.39" y="453.27" width="3.92" height="20.34" fill="none" stroke="#111" stroke-width="0.6"/>
<rect x="356.31" y="467.23" width="3.92" height="6.37" fill="#4c4c4c"/><rect x="357.62" y="467.23" width="1.3" height="6.37" fill="#808080"/><rect x="356.31" y="467.23" width="3.92" height="6.37" fill="none" stroke="#111" stroke-width="0.6"/>
<rect x="360.24" y="457.68" width="3.92" height="15.93" fill="#595959"/><rect x="361.6" y="457.68" width="1.2" height="15.93" fill="#8a8a8a"/><rect x="360.24" y="457.68" width="3.92" height="15.93" fill="none" stroke="#111" stroke-width="0.6"/>
<rect x="364.16" y="473.6" width="3.92" height="0.98" fill="#1e1e1e"/><rect x="364.16" y="473.6" width="3.92" height="0.98" fill="none" stroke="#111" stroke-width="0.6"/>
<rect x="368.08" y="473.36" width="3.92" height="0.6" fill="#0c0c0c"/><rect x="368.08" y="473.36" width="3.92" height="0.6" fill="none" stroke="#111" stroke-width="0.6"/>
<rect x="372.01" y="460.62" width="3.92" height="12.99" fill="#5a5a5a"/><rect x="373.32" y="460.62" width="1.3" height="12.99" fill="#7c7c7c"/><rect x="372.01" y="460.62" width="3.92" height="12.99" fill="none" stroke="#111" stroke-width="0.6"/>
<rect x="375.93" y="467.72" width="3.92" height="5.88" fill="#fbfbfb"/><path d="M378.83,468.32V473.2" stroke="#333333" stroke-width="0.85" stroke-dasharray="0.8 1.6"/><path d="M376.99,469.32V473.2" stroke="#8a8a8a" stroke-width="0.7" stroke-dasharray="0.8 1.6"/><rect x="375.93" y="467.72" width="3.92" height="5.88" fill="none" stroke="#2a2a2a" stroke-width="0.6"/>
<rect x="379.85" y="469.68" width="3.92" height="3.92" fill="#8a8a8a"/><path d="M381.62,470.28V473.2" stroke="#eeeeee" stroke-width="1.3" stroke-dasharray="1.1 1.2"/><rect x="379.85" y="469.68" width="3.92" height="3.92" fill="none" stroke="#111" stroke-width="0.6"/>
<rect x="389.66" y="444.2" width="3.92" height="29.4" fill="#3a3a3a"/><path d="M390.53,444.65L392.72,445.95M390.53,447.1L392.72,448.4M390.53,449.55L392.72,450.85M390.53,452L392.72,453.3M390.53,454.45L392.72,455.75M390.53,456.9L392.72,458.2M390.53,459.35L392.72,460.65M390.53,461.8L392.72,463.1M390.53,464.25L392.72,465.55M390.53,466.7L392.72,468M390.53,469.15L392.72,470.45M390.53,471.6L392.72,472.9" stroke="#f2f2f2" stroke-width="1.1" stroke-linecap="round"/><rect x="389.66" y="444.2" width="3.92" height="29.4" fill="none" stroke="#111" stroke-width="0.6"/>
<rect x="393.59" y="467.97" width="3.92" height="5.63" fill="#1a1a1a"/><path d="M395.55,468.57V473.2" stroke="#f6f6f6" stroke-width="2.1" stroke-dasharray="1.4 0.95"/><rect x="393.59" y="467.97" width="3.92" height="5.63" fill="none" stroke="#111" stroke-width="0.6"/>
<rect x="397.51" y="451.06" width="3.92" height="22.54" fill="#1c1c1c"/><path d="M398.37,452.81L400.57,451.51M398.37,455.26L400.57,453.96M398.37,457.71L400.57,456.41M398.37,460.16L400.57,458.86M398.37,462.61L400.57,461.31M398.37,465.06L400.57,463.76M398.37,467.51L400.57,466.21M398.37,469.96L400.57,468.66M398.37,472.41L400.57,471.11" stroke="#f4f4f4" stroke-width="1.05" stroke-linecap="round"/><rect x="397.51" y="451.06" width="3.92" height="22.54" fill="none" stroke="#111" stroke-width="0.6"/>
<rect x="401.43" y="471.15" width="3.92" height="2.45" fill="#4c4c4c"/><rect x="402.74" y="471.15" width="1.3" height="2.45" fill="#808080"/><rect x="401.43" y="471.15" width="3.92" height="2.45" fill="none" stroke="#111" stroke-width="0.6"/>
<rect x="405.36" y="456.94" width="3.92" height="16.66" fill="#595959"/><rect x="406.72" y="456.94" width="1.2" height="16.66" fill="#8a8a8a"/><rect x="405.36" y="456.94" width="3.92" height="16.66" fill="none" stroke="#111" stroke-width="0.6"/>
<rect x="409.28" y="473.36" width="3.92" height="0.6" fill="#1e1e1e"/><rect x="409.28" y="473.36" width="3.92" height="0.6" fill="none" stroke="#111" stroke-width="0.6"/>
<rect x="413.2" y="473.6" width="3.92" height="7.35" fill="#0c0c0c"/><path d="M415.36,474.2V480.55" stroke="#c8c8c8" stroke-width="1.2" stroke-dasharray="1.0 1.5"/><rect x="413.2" y="473.6" width="3.92" height="7.35" fill="none" stroke="#111" stroke-width="0.6"/>
<rect x="417.13" y="465.52" width="3.92" height="8.09" fill="#5a5a5a"/><rect x="418.44" y="465.52" width="1.3" height="8.09" fill="#7c7c7c"/><rect x="417.13" y="465.52" width="3.92" height="8.09" fill="none" stroke="#111" stroke-width="0.6"/>
<rect x="421.05" y="473.6" width="3.92" height="7.11" fill="#fbfbfb"/><path d="M423.95,474.2V480.31" stroke="#333333" stroke-width="0.85" stroke-dasharray="0.8 1.6"/><path d="M422.11,475.2V480.31" stroke="#8a8a8a" stroke-width="0.7" stroke-dasharray="0.8 1.6"/><rect x="421.05" y="473.6" width="3.92" height="7.11" fill="none" stroke="#2a2a2a" stroke-width="0.6"/>
<rect x="424.97" y="472.13" width="3.92" height="1.47" fill="#8a8a8a"/><rect x="424.97" y="472.13" width="3.92" height="1.47" fill="none" stroke="#111" stroke-width="0.6"/>
<text x="243.3" y="417.4" text-anchor="end" font-size="7.3">12</text>
<text x="243.3" y="427.2" text-anchor="end" font-size="7.3">10</text>
<text x="243.3" y="437" text-anchor="end" font-size="7.3">8</text>
<text x="243.3" y="446.8" text-anchor="end" font-size="7.3">6</text>
<text x="243.3" y="456.6" text-anchor="end" font-size="7.3">4</text>
<text x="243.3" y="466.4" text-anchor="end" font-size="7.3">2</text>
<text x="243.3" y="476.2" text-anchor="end" font-size="7.3">0</text>
<text x="243.3" y="486" text-anchor="end" font-size="7.3">-2</text>
<text x="243.3" y="495.8" text-anchor="end" font-size="7.3">-4</text>
<text x="243.3" y="505.6" text-anchor="end" font-size="7.3">-6</text>
<text transform="translate(231.5,455.7) rotate(-90)" text-anchor="middle" font-size="7.8" textLength="111" lengthAdjust="spacingAndGlyphs">Deviation from clean condition in</text>
<text transform="translate(241.5,455.7) rotate(-90)" text-anchor="middle" font-size="7.8" textLength="9.5" lengthAdjust="spacingAndGlyphs">[%]</text>
<text x="273.92" y="517.1" text-anchor="middle" font-size="7.6">-6.5</text>
<text x="319.04" y="517.1" text-anchor="middle" font-size="7.6">-3.5</text>
<text x="364.16" y="517.1" text-anchor="middle" font-size="7.6">3.5</text>
<text x="409.28" y="517.1" text-anchor="middle" font-size="7.6">6.5</text>
<text x="323" y="526.6" text-anchor="middle" font-size="7.8" textLength="122.3" lengthAdjust="spacingAndGlyphs">Variable Inlet Guide Vane Drift in [°]</text>
<text x="325.5" y="385.3" text-anchor="middle" font-size="9.2" textLength="150.1" lengthAdjust="spacingAndGlyphs">Measurement Deviation vs VIGV Drift at</text>
<text x="325.5" y="396.6" text-anchor="middle" font-size="9.2" textLength="93.4" lengthAdjust="spacingAndGlyphs">100% PT Erosion Severity</text>
<rect x="301.4" y="402" width="117.4" height="19.4" fill="#fff" stroke="#8c8c8c" stroke-width="0.8"/>
<rect x="304.3" y="404.4" width="5" height="5" fill="#3a3a3a"/><path d="M305.4,404.85L308.2,406.15M305.4,407.3L308.2,408.6" stroke="#f2f2f2" stroke-width="1.1" stroke-linecap="round"/><rect x="304.3" y="404.4" width="5" height="5" fill="none" stroke="#111" stroke-width="0.6"/>
<text x="311.1" y="409.6" font-size="7.9">P24</text>
<rect x="327.8" y="404.4" width="5" height="5" fill="#1a1a1a"/><path d="M330.3,405V409" stroke="#f6f6f6" stroke-width="2.1" stroke-dasharray="1.4 0.95"/><rect x="327.8" y="404.4" width="5" height="5" fill="none" stroke="#111" stroke-width="0.6"/>
<text x="334.6" y="409.6" font-size="7.9">T24</text>
<rect x="351.3" y="404.4" width="5" height="5" fill="#1c1c1c"/><path d="M352.4,406.15L355.2,404.85M352.4,408.6L355.2,407.3" stroke="#f4f4f4" stroke-width="1.05" stroke-linecap="round"/><rect x="351.3" y="404.4" width="5" height="5" fill="none" stroke="#111" stroke-width="0.6"/>
<text x="358.1" y="409.6" font-size="7.9">P3</text>
<rect x="374.8" y="404.4" width="5" height="5" fill="#4c4c4c"/><rect x="376.65" y="404.4" width="1.3" height="5" fill="#808080"/><rect x="374.8" y="404.4" width="5" height="5" fill="none" stroke="#111" stroke-width="0.6"/>
<text x="381.6" y="409.6" font-size="7.9">T3</text>
<rect x="398.3" y="404.4" width="5" height="5" fill="#595959"/><rect x="400.2" y="404.4" width="1.2" height="5" fill="#8a8a8a"/><rect x="398.3" y="404.4" width="5" height="5" fill="none" stroke="#111" stroke-width="0.6"/>
<text x="405.1" y="409.6" font-size="7.9">P43</text>
<rect x="304.3" y="413.9" width="5" height="5" fill="#1e1e1e"/><path d="M306.8,414.5V418.5" stroke="#d0d0d0" stroke-width="1.3" stroke-dasharray="1.0 1.5"/><rect x="304.3" y="413.9" width="5" height="5" fill="none" stroke="#111" stroke-width="0.6"/>
<text x="311.1" y="419.1" font-size="7.9">P47</text>
<rect x="327.8" y="413.9" width="5" height="5" fill="#0c0c0c"/><path d="M330.55,414.5V418.5" stroke="#c8c8c8" stroke-width="1.2" stroke-dasharray="1.0 1.5"/><rect x="327.8" y="413.9" width="5" height="5" fill="none" stroke="#111" stroke-width="0.6"/>
<text x="334.6" y="419.1" font-size="7.9">T5</text>
<rect x="351.3" y="413.9" width="5" height="5" fill="#5a5a5a"/><rect x="353.15" y="413.9" width="1.3" height="5" fill="#7c7c7c"/><rect x="351.3" y="413.9" width="5" height="5" fill="none" stroke="#111" stroke-width="0.6"/>
<text x="358.1" y="419.1" font-size="7.9">FF</text>
<rect x="374.8" y="413.9" width="5" height="5" fill="#fbfbfb"/><path d="M378.5,414.5V418.5" stroke="#333333" stroke-width="0.85" stroke-dasharray="0.8 1.6"/><path d="M376.15,415.5V418.5" stroke="#8a8a8a" stroke-width="0.7" stroke-dasharray="0.8 1.6"/><rect x="374.8" y="413.9" width="5" height="5" fill="none" stroke="#2a2a2a" stroke-width="0.6"/>
<text x="381.6" y="419.1" font-size="7.9">N1</text>
<rect x="398.3" y="413.9" width="5" height="5" fill="#8a8a8a"/><path d="M400.55,414.5V418.5" stroke="#eeeeee" stroke-width="1.3" stroke-dasharray="1.1 1.2"/><rect x="398.3" y="413.9" width="5" height="5" fill="none" stroke="#111" stroke-width="0.6"/>
<text x="405.1" y="419.1" font-size="7.9">N2</text>
<text x="326" y="545.4" text-anchor="middle" font-size="8.4" textLength="7.8" lengthAdjust="spacingAndGlyphs">(<tspan font-weight="bold">j</tspan>)</text>
</g>
</svg></body></html>
